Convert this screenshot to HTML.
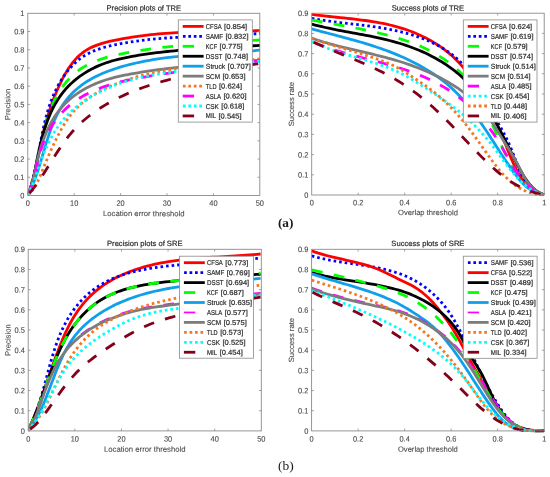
<!DOCTYPE html>
<html><head><meta charset="utf-8"><title>Precision and success plots</title>
<style>html,body{margin:0;padding:0;background:#fff}svg{display:block;filter:blur(0.35px)}text{font-family:"Liberation Sans", sans-serif;stroke-width:0.2px;fill:#2b2b2b;stroke:#2b2b2b}.tk text,text.al{fill:#4a4a4a;stroke:#4a4a4a;stroke-width:0.1px}</style></head>
<body>
<svg width="550" height="477" viewBox="0 0 550 477">
<rect width="550" height="477" fill="#fff"/>
<g id="p1">
<clipPath id="cp1"><rect x="27.8" y="11.9" width="232.4" height="185"/></clipPath>
<g clip-path="url(#cp1)" fill="none" stroke-width="2.8" stroke-linejoin="round">
<path d="M27.8 195.2L29.15 191.66L30.4 188.09L31.54 184.5L32.6 180.89L33.58 177.26L34.5 173.61L35.36 169.96L36.18 166.29L36.96 162.61L37.72 158.92L38.46 155.23L39.2 151.54L39.95 147.84L40.71 144.15L41.5 140.46L42.32 136.78L43.18 133.11L44.09 129.45L45.03 125.79L46.01 122.15L47.04 118.51L48.12 114.89L49.26 111.28L50.44 107.69L51.68 104.11L52.98 100.55L54.34 97.01L55.76 93.49L57.25 89.98L58.8 86.5L60.42 83.04L62.12 79.6L63.9 76.21L65.77 72.87L67.74 69.62L69.82 66.47L72.02 63.45L74.35 60.57L76.82 57.85L79.44 55.32L82.22 52.99L85.17 50.89L88.28 49.02L91.54 47.36L94.93 45.88L98.43 44.58L102.02 43.42L105.68 42.39L109.4 41.46L113.15 40.62L116.92 39.84L120.69 39.11L124.46 38.42L128.22 37.78L131.99 37.17L135.75 36.61L139.51 36.08L143.27 35.59L147.03 35.13L150.79 34.7L154.54 34.31L158.3 33.95L162.06 33.62L165.81 33.31L169.57 33.03L173.33 32.78L177.08 32.55L180.84 32.35L184.59 32.16L188.35 31.99L192.11 31.85L195.87 31.71L199.63 31.6L203.39 31.5L207.15 31.41L210.91 31.33L214.67 31.26L218.44 31.2L222.21 31.15L225.98 31.1L229.75 31.06L233.52 31.02L237.3 30.98L241.07 30.94L244.85 30.9L248.64 30.86L252.42 30.81L256.21 30.76L260 30.7" stroke="#ff0000"/>
<path d="M27.8 195.2L29.04 191.73L30.19 188.22L31.27 184.68L32.27 181.11L33.22 177.52L34.11 173.9L34.95 170.26L35.76 166.61L36.53 162.94L37.27 159.26L37.99 155.56L38.7 151.87L39.4 148.17L40.1 144.46L40.81 140.76L41.53 137.07L42.28 133.38L43.05 129.71L43.86 126.04L44.71 122.39L45.61 118.76L46.57 115.16L47.58 111.57L48.67 108.02L49.84 104.49L51.08 101L52.42 97.54L53.86 94.13L55.39 90.75L57.05 87.42L58.81 84.13L60.71 80.89L62.73 77.71L64.88 74.6L67.17 71.58L69.58 68.66L72.12 65.87L74.78 63.22L77.56 60.73L80.47 58.41L83.5 56.3L86.64 54.39L89.9 52.68L93.25 51.16L96.68 49.81L100.19 48.6L103.75 47.51L107.37 46.54L111.02 45.67L114.69 44.87L118.38 44.12L122.07 43.43L125.76 42.78L129.46 42.17L133.17 41.6L136.87 41.07L140.58 40.57L144.3 40.11L148.01 39.69L151.73 39.3L155.45 38.93L159.18 38.6L162.91 38.29L166.64 38L170.37 37.74L174.1 37.5L177.83 37.28L181.57 37.07L185.31 36.88L189.04 36.7L192.78 36.54L196.52 36.38L200.26 36.24L204 36.1L207.74 35.96L211.48 35.83L215.22 35.69L218.96 35.56L222.7 35.42L226.44 35.28L230.17 35.13L233.91 34.98L237.64 34.81L241.37 34.63L245.1 34.44L248.83 34.23L252.56 34.01L256.28 33.76L260 33.5" stroke="#0000ff" stroke-dasharray="2.6 3.0" stroke-dashoffset="-1.5"/>
<path d="M27.8 195.2L29.1 191.79L30.3 188.38L31.42 184.96L32.46 181.54L33.44 178.1L34.36 174.64L35.23 171.17L36.07 167.67L36.87 164.16L37.65 160.62L38.41 157.05L39.17 153.46L39.92 149.86L40.68 146.24L41.46 142.62L42.26 139L43.08 135.38L43.94 131.77L44.85 128.18L45.8 124.61L46.81 121.06L47.88 117.55L49.02 114.08L50.24 110.64L51.54 107.26L52.93 103.93L54.43 100.65L56.02 97.44L57.74 94.3L59.57 91.23L61.52 88.25L63.61 85.35L65.83 82.54L68.18 79.84L70.66 77.25L73.26 74.78L75.98 72.45L78.82 70.26L81.77 68.22L84.84 66.34L87.99 64.61L91.24 63.02L94.56 61.56L97.95 60.24L101.4 59.04L104.89 57.95L108.41 56.95L111.97 56.04L115.54 55.19L119.13 54.4L122.72 53.65L126.31 52.93L129.91 52.25L133.5 51.6L137.1 50.99L140.69 50.4L144.29 49.84L147.89 49.31L151.49 48.81L155.09 48.33L158.69 47.88L162.3 47.45L165.9 47.04L169.51 46.65L173.11 46.28L176.72 45.93L180.33 45.6L183.94 45.28L187.55 44.97L191.16 44.68L194.78 44.4L198.39 44.13L202.01 43.87L205.62 43.61L209.24 43.37L212.86 43.12L216.48 42.89L220.1 42.65L223.72 42.42L227.35 42.19L230.97 41.95L234.6 41.72L238.22 41.48L241.85 41.23L245.48 40.98L249.11 40.73L252.74 40.46L256.37 40.19L260 39.9" stroke="#00ff00" stroke-dasharray="10.8 11.4" stroke-dashoffset="-3.3"/>
<path d="M27.8 195.2L29.16 191.87L30.37 188.52L31.45 185.15L32.41 181.75L33.28 178.34L34.07 174.91L34.8 171.45L35.5 167.98L36.18 164.5L36.86 161L37.55 157.48L38.27 153.95L39.03 150.42L39.82 146.88L40.65 143.36L41.53 139.84L42.46 136.33L43.44 132.84L44.49 129.38L45.6 125.95L46.79 122.55L48.05 119.19L49.39 115.88L50.81 112.62L52.33 109.41L53.94 106.26L55.65 103.18L57.47 100.16L59.4 97.22L61.44 94.36L63.6 91.59L65.89 88.9L68.3 86.31L70.83 83.82L73.47 81.43L76.21 79.13L79.05 76.94L81.97 74.86L84.98 72.89L88.06 71.02L91.21 69.27L94.41 67.64L97.67 66.13L100.97 64.74L104.31 63.46L107.69 62.29L111.1 61.22L114.53 60.25L117.99 59.35L121.48 58.53L124.97 57.77L128.49 57.07L132.01 56.41L135.53 55.8L139.06 55.21L142.6 54.66L146.13 54.13L149.67 53.63L153.2 53.16L156.74 52.71L160.29 52.29L163.83 51.88L167.38 51.5L170.92 51.14L174.47 50.8L178.02 50.48L181.58 50.17L185.13 49.88L188.69 49.6L192.24 49.34L195.8 49.09L199.36 48.85L202.92 48.62L206.48 48.4L210.05 48.18L213.61 47.97L217.18 47.77L220.74 47.57L224.31 47.37L227.87 47.18L231.44 46.98L235.01 46.79L238.58 46.59L242.15 46.39L245.72 46.19L249.29 45.98L252.86 45.76L256.43 45.53L260 45.3" stroke="#000000"/>
<path d="M27.8 195.2L29.38 192.14L30.86 189.05L32.25 185.92L33.56 182.75L34.8 179.55L35.97 176.32L37.1 173.05L38.18 169.76L39.23 166.44L40.26 163.09L41.27 159.72L42.27 156.34L43.26 152.95L44.26 149.56L45.27 146.17L46.3 142.79L47.36 139.42L48.45 136.07L49.58 132.74L50.76 129.45L51.99 126.19L53.29 122.97L54.66 119.79L56.1 116.67L57.63 113.61L59.25 110.61L60.97 107.68L62.79 104.82L64.73 102.04L66.79 99.34L68.98 96.74L71.29 94.23L73.71 91.81L76.25 89.49L78.89 87.28L81.62 85.16L84.44 83.15L87.34 81.24L90.32 79.45L93.36 77.76L96.46 76.18L99.61 74.69L102.81 73.3L106.05 71.99L109.32 70.75L112.61 69.59L115.93 68.49L119.25 67.45L122.59 66.46L125.93 65.52L129.29 64.64L132.65 63.8L136.02 63.01L139.4 62.27L142.78 61.57L146.18 60.91L149.58 60.29L152.98 59.71L156.4 59.16L159.82 58.65L163.24 58.17L166.67 57.72L170.11 57.29L173.55 56.9L176.99 56.52L180.44 56.18L183.89 55.85L187.34 55.54L190.8 55.25L194.26 54.97L197.72 54.7L201.19 54.45L204.65 54.21L208.12 53.97L211.58 53.74L215.05 53.52L218.52 53.29L221.98 53.07L225.45 52.85L228.92 52.62L232.38 52.39L235.84 52.14L239.3 51.89L242.76 51.63L246.21 51.36L249.67 51.07L253.11 50.77L256.56 50.44L260 50.1" stroke="#10a0ea"/>
<path d="M27.8 195.2L29.13 191.98L30.31 188.75L31.36 185.51L32.3 182.26L33.15 178.99L33.93 175.72L34.67 172.43L35.39 169.14L36.1 165.84L36.84 162.53L37.61 159.21L38.43 155.89L39.32 152.57L40.27 149.26L41.28 145.96L42.36 142.69L43.51 139.43L44.74 136.21L46.05 133.03L47.44 129.89L48.91 126.8L50.47 123.76L52.13 120.79L53.88 117.88L55.73 115.05L57.69 112.29L59.75 109.62L61.91 107.04L64.19 104.56L66.59 102.18L69.09 99.9L71.69 97.72L74.38 95.64L77.15 93.66L80 91.78L82.93 90L85.91 88.32L88.96 86.74L92.05 85.25L95.18 83.86L98.35 82.57L101.55 81.38L104.77 80.28L108.02 79.26L111.28 78.32L114.57 77.45L117.87 76.65L121.18 75.9L124.51 75.2L127.85 74.54L131.2 73.92L134.55 73.33L137.91 72.76L141.27 72.22L144.64 71.69L148.01 71.18L151.38 70.69L154.76 70.22L158.13 69.76L161.51 69.32L164.9 68.9L168.28 68.49L171.67 68.09L175.06 67.7L178.45 67.33L181.85 66.97L185.24 66.62L188.64 66.28L192.04 65.95L195.44 65.62L198.84 65.31L202.24 65L205.64 64.69L209.04 64.39L212.44 64.1L215.85 63.81L219.25 63.52L222.65 63.23L226.05 62.95L229.45 62.66L232.85 62.38L236.25 62.09L239.65 61.81L243.04 61.52L246.44 61.22L249.83 60.92L253.22 60.62L256.61 60.31L260 60" stroke="#7c7c7c"/>
<path d="M27.8 195.2L30.25 192.96L32.39 190.5L34.25 187.85L35.9 185.05L37.38 182.14L38.74 179.15L40.03 176.11L41.3 173.06L42.56 170.01L43.82 166.96L45.09 163.92L46.37 160.89L47.66 157.85L48.96 154.82L50.29 151.8L51.64 148.78L53.01 145.77L54.42 142.76L55.87 139.76L57.35 136.77L58.88 133.8L60.46 130.86L62.09 127.95L63.79 125.08L65.55 122.26L67.39 119.5L69.3 116.81L71.3 114.2L73.38 111.68L75.57 109.24L77.85 106.92L80.23 104.69L82.69 102.56L85.25 100.52L87.88 98.58L90.58 96.72L93.35 94.95L96.18 93.26L99.07 91.64L102 90.1L104.98 88.63L107.99 87.22L111.04 85.88L114.11 84.6L117.19 83.37L120.3 82.2L123.41 81.08L126.54 80.01L129.68 78.98L132.83 78.01L135.99 77.07L139.17 76.18L142.35 75.34L145.54 74.53L148.75 73.76L151.96 73.02L155.18 72.33L158.41 71.66L161.64 71.03L164.88 70.43L168.13 69.85L171.39 69.31L174.65 68.78L177.92 68.29L181.19 67.81L184.46 67.35L187.74 66.92L191.03 66.5L194.31 66.09L197.6 65.7L200.89 65.33L204.19 64.96L207.48 64.6L210.78 64.25L214.07 63.91L217.37 63.57L220.66 63.23L223.96 62.89L227.25 62.56L230.54 62.22L233.83 61.88L237.11 61.53L240.4 61.17L243.68 60.81L246.95 60.43L250.22 60.05L253.49 59.65L256.75 59.23L260 58.8" stroke="#f4771d" stroke-dasharray="2.6 3.0"/>
<path d="M27.8 195.2L29.26 192.13L30.54 189.03L31.69 185.88L32.7 182.7L33.62 179.49L34.46 176.27L35.23 173.02L35.97 169.76L36.7 166.49L37.43 163.21L38.18 159.94L38.97 156.67L39.83 153.42L40.76 150.18L41.8 146.97L42.94 143.78L44.2 140.63L45.56 137.52L47.03 134.45L48.61 131.44L50.28 128.48L52.06 125.59L53.93 122.76L55.9 120.01L57.96 117.34L60.11 114.76L62.34 112.27L64.66 109.88L67.06 107.6L69.53 105.42L72.09 103.35L74.71 101.39L77.41 99.52L80.17 97.75L82.99 96.08L85.87 94.49L88.81 92.99L91.8 91.57L94.84 90.24L97.92 88.97L101.05 87.78L104.21 86.65L107.41 85.59L110.64 84.59L113.9 83.64L117.19 82.75L120.5 81.91L123.82 81.11L127.16 80.36L130.52 79.64L133.88 78.96L137.25 78.31L140.61 77.69L143.98 77.09L147.34 76.52L150.7 75.96L154.04 75.41L157.37 74.88L160.7 74.35L164.01 73.84L167.32 73.34L170.62 72.85L173.91 72.37L177.19 71.9L180.48 71.43L183.75 70.98L187.03 70.52L190.3 70.08L193.57 69.63L196.84 69.19L200.11 68.76L203.39 68.32L206.66 67.89L209.94 67.46L213.22 67.03L216.5 66.6L219.79 66.17L223.09 65.73L226.39 65.29L229.7 64.85L233.02 64.41L236.35 63.96L239.69 63.5L243.05 63.04L246.41 62.57L249.79 62.09L253.18 61.6L256.58 61.11L260 60.6" stroke="#ff00ff" stroke-dasharray="10.8 11.4" stroke-dashoffset="-1.7"/>
<path d="M27.8 195.2L29.28 192.27L30.64 189.3L31.91 186.28L33.09 183.23L34.22 180.15L35.31 177.04L36.38 173.92L37.44 170.79L38.52 167.65L39.63 164.51L40.76 161.38L41.94 158.26L43.16 155.15L44.43 152.06L45.74 149L47.11 145.96L48.54 142.96L50.02 140L51.57 137.08L53.19 134.21L54.89 131.4L56.65 128.64L58.5 125.94L60.43 123.31L62.45 120.75L64.56 118.27L66.75 115.86L69.03 113.53L71.38 111.27L73.81 109.08L76.31 106.96L78.87 104.92L81.5 102.94L84.2 101.03L86.95 99.2L89.75 97.43L92.61 95.72L95.51 94.09L98.46 92.52L101.44 91.02L104.47 89.58L107.52 88.2L110.61 86.89L113.73 85.64L116.86 84.45L120.02 83.32L123.19 82.26L126.38 81.25L129.58 80.3L132.78 79.42L135.98 78.58L139.19 77.81L142.39 77.09L145.6 76.41L148.8 75.78L152.01 75.18L155.23 74.62L158.44 74.08L161.66 73.57L164.89 73.08L168.12 72.61L171.36 72.14L174.6 71.68L177.85 71.22L181.11 70.76L184.38 70.29L187.65 69.83L190.93 69.37L194.21 68.91L197.5 68.45L200.79 67.99L204.08 67.54L207.38 67.1L210.68 66.66L213.98 66.23L217.28 65.81L220.58 65.39L223.89 64.99L227.19 64.6L230.49 64.22L233.78 63.85L237.08 63.5L240.37 63.16L243.65 62.84L246.93 62.53L250.21 62.25L253.48 61.98L256.74 61.73L260 61.5" stroke="#00ffff" stroke-dasharray="2.6 3.0"/>
<path d="M27.8 195.2L29.84 192.86L31.82 190.47L33.74 188.01L35.61 185.51L37.43 182.96L39.22 180.37L40.98 177.75L42.71 175.1L44.43 172.44L46.13 169.75L47.82 167.05L49.51 164.35L51.21 161.64L52.9 158.93L54.61 156.23L56.34 153.54L58.08 150.87L59.85 148.22L61.64 145.6L63.48 143.01L65.34 140.45L67.26 137.94L69.22 135.46L71.23 133.04L73.3 130.68L75.43 128.37L77.62 126.12L79.87 123.94L82.17 121.81L84.53 119.73L86.94 117.72L89.4 115.76L91.91 113.85L94.46 112L97.05 110.19L99.68 108.45L102.35 106.75L105.05 105.1L107.79 103.5L110.56 101.95L113.35 100.44L116.17 98.98L119.01 97.57L121.88 96.2L124.76 94.88L127.66 93.59L130.57 92.35L133.5 91.15L136.44 89.99L139.4 88.86L142.37 87.78L145.35 86.73L148.35 85.71L151.36 84.73L154.38 83.78L157.41 82.87L160.45 81.98L163.49 81.13L166.55 80.3L169.62 79.5L172.7 78.73L175.78 77.98L178.87 77.26L181.97 76.56L185.07 75.88L188.18 75.22L191.29 74.59L194.41 73.97L197.53 73.37L200.66 72.79L203.79 72.22L206.92 71.67L210.05 71.13L213.18 70.6L216.32 70.09L219.45 69.58L222.59 69.09L225.72 68.6L228.86 68.13L231.99 67.65L235.12 67.19L238.24 66.72L241.36 66.26L244.48 65.8L247.6 65.34L250.71 64.89L253.81 64.43L256.91 63.97L260 63.5" stroke="#83001a" stroke-dasharray="10.8 11.4" stroke-dashoffset="-2.5"/>
</g>
<rect x="27.8" y="13.3" width="232" height="182.2" fill="none" stroke="#8a8a8a" stroke-width="0.9"/>
<path d="M74.2 195.5v-2.3M74.2 13.3v2.3M120.6 195.5v-2.3M120.6 13.3v2.3M167 195.5v-2.3M167 13.3v2.3M213.4 195.5v-2.3M213.4 13.3v2.3M27.8 177.28h2.3M259.8 177.28h-2.3M27.8 159.06h2.3M259.8 159.06h-2.3M27.8 140.84h2.3M259.8 140.84h-2.3M27.8 122.62h2.3M259.8 122.62h-2.3M27.8 104.4h2.3M259.8 104.4h-2.3M27.8 86.18h2.3M259.8 86.18h-2.3M27.8 67.96h2.3M259.8 67.96h-2.3M27.8 49.74h2.3M259.8 49.74h-2.3M27.8 31.52h2.3M259.8 31.52h-2.3" stroke="#8a8a8a" stroke-width="0.8" fill="none"/>
<g class="tk" font-size="7.8">
<text transform="translate(25.73 205.8) rotate(0.03)" textLength="4.14" lengthAdjust="spacingAndGlyphs">0</text><text transform="translate(70.06 205.8) rotate(0.03)" textLength="8.28" lengthAdjust="spacingAndGlyphs">10</text><text transform="translate(116.46 205.8) rotate(0.03)" textLength="8.28" lengthAdjust="spacingAndGlyphs">20</text><text transform="translate(162.86 205.8) rotate(0.03)" textLength="8.28" lengthAdjust="spacingAndGlyphs">30</text><text transform="translate(209.26 205.8) rotate(0.03)" textLength="8.28" lengthAdjust="spacingAndGlyphs">40</text><text transform="translate(255.66 205.8) rotate(0.03)" textLength="8.28" lengthAdjust="spacingAndGlyphs">50</text>
<text transform="translate(20.36 198.3) rotate(0.03)" textLength="4.14" lengthAdjust="spacingAndGlyphs">0</text><text transform="translate(14.15 180.08) rotate(0.03)" textLength="10.35" lengthAdjust="spacingAndGlyphs">0.1</text><text transform="translate(14.15 161.86) rotate(0.03)" textLength="10.35" lengthAdjust="spacingAndGlyphs">0.2</text><text transform="translate(14.15 143.64) rotate(0.03)" textLength="10.35" lengthAdjust="spacingAndGlyphs">0.3</text><text transform="translate(14.15 125.42) rotate(0.03)" textLength="10.35" lengthAdjust="spacingAndGlyphs">0.4</text><text transform="translate(14.15 107.2) rotate(0.03)" textLength="10.35" lengthAdjust="spacingAndGlyphs">0.5</text><text transform="translate(14.15 88.98) rotate(0.03)" textLength="10.35" lengthAdjust="spacingAndGlyphs">0.6</text><text transform="translate(14.15 70.76) rotate(0.03)" textLength="10.35" lengthAdjust="spacingAndGlyphs">0.7</text><text transform="translate(14.15 52.54) rotate(0.03)" textLength="10.35" lengthAdjust="spacingAndGlyphs">0.8</text><text transform="translate(14.15 34.32) rotate(0.03)" textLength="10.35" lengthAdjust="spacingAndGlyphs">0.9</text><text transform="translate(20.36 16.1) rotate(0.03)" textLength="4.14" lengthAdjust="spacingAndGlyphs">1</text>
</g>
<text transform="translate(106.6 10.6) rotate(0.03)" font-size="7.6" textLength="74.4" lengthAdjust="spacingAndGlyphs">Precision plots of TRE</text>
<text transform="translate(103 216.1) rotate(0.03)" class="al" font-size="7.6" textLength="81.6" lengthAdjust="spacingAndGlyphs">Location error threshold</text>
<text transform="translate(10.2 120.2) rotate(-90.03)" class="al" font-size="7.6" textLength="31.6" lengthAdjust="spacingAndGlyphs">Precision</text>
<rect x="178.3" y="19.9" width="74" height="102.2" fill="#fff" stroke="#8a8a8a" stroke-width="0.8"/>
<g font-size="7.05">
<path d="M182.7 26.4H203.6" stroke="#ff0000" stroke-width="2.8" fill="none"/><text transform="translate(205.8 28.9) rotate(0.03)" textLength="15.8" lengthAdjust="spacingAndGlyphs">CFSA</text><text transform="translate(224.1 28.9) rotate(0.03)" textLength="23.1" lengthAdjust="spacingAndGlyphs">[0.854]</text>
<path d="M182.9 36.35H203.6" stroke="#0000ff" stroke-width="2.8" stroke-dasharray="2.7 2.75" fill="none"/><text transform="translate(205.8 38.85) rotate(0.03)" textLength="17.2" lengthAdjust="spacingAndGlyphs">SAMF</text><text transform="translate(225.5 38.85) rotate(0.03)" textLength="23.1" lengthAdjust="spacingAndGlyphs">[0.832]</text>
<path d="M182.7 46.3h11.4" stroke="#00ff00" stroke-width="2.8" fill="none"/><text transform="translate(205.8 48.8) rotate(0.03)" textLength="11.3" lengthAdjust="spacingAndGlyphs">KCF</text><text transform="translate(219.6 48.8) rotate(0.03)" textLength="23.1" lengthAdjust="spacingAndGlyphs">[0.775]</text>
<path d="M182.7 56.25H203.6" stroke="#000000" stroke-width="2.8" fill="none"/><text transform="translate(205.8 58.75) rotate(0.03)" textLength="16.6" lengthAdjust="spacingAndGlyphs">DSST</text><text transform="translate(224.9 58.75) rotate(0.03)" textLength="23.1" lengthAdjust="spacingAndGlyphs">[0.748]</text>
<path d="M182.7 66.2H203.6" stroke="#10a0ea" stroke-width="2.8" fill="none"/><text transform="translate(205.8 68.7) rotate(0.03)" textLength="19.5" lengthAdjust="spacingAndGlyphs">Struck</text><text transform="translate(227.8 68.7) rotate(0.03)" textLength="23.1" lengthAdjust="spacingAndGlyphs">[0.707]</text>
<path d="M182.7 76.15H203.6" stroke="#7c7c7c" stroke-width="2.8" fill="none"/><text transform="translate(205.8 78.65) rotate(0.03)" textLength="14.2" lengthAdjust="spacingAndGlyphs">SCM</text><text transform="translate(222.5 78.65) rotate(0.03)" textLength="23.1" lengthAdjust="spacingAndGlyphs">[0.653]</text>
<path d="M182.9 86.1H203.6" stroke="#f4771d" stroke-width="2.8" stroke-dasharray="2.7 2.75" fill="none"/><text transform="translate(205.8 88.6) rotate(0.03)" textLength="10.7" lengthAdjust="spacingAndGlyphs">TLD</text><text transform="translate(219 88.6) rotate(0.03)" textLength="23.1" lengthAdjust="spacingAndGlyphs">[0.624]</text>
<path d="M182.7 96.05h11.4" stroke="#ff00ff" stroke-width="2.8" fill="none"/><text transform="translate(205.8 98.55) rotate(0.03)" textLength="15.2" lengthAdjust="spacingAndGlyphs">ASLA</text><text transform="translate(223.5 98.55) rotate(0.03)" textLength="23.1" lengthAdjust="spacingAndGlyphs">[0.620]</text>
<path d="M182.9 106H203.6" stroke="#00ffff" stroke-width="2.8" stroke-dasharray="2.7 2.75" fill="none"/><text transform="translate(205.8 108.5) rotate(0.03)" textLength="13" lengthAdjust="spacingAndGlyphs">CSK</text><text transform="translate(221.3 108.5) rotate(0.03)" textLength="23.1" lengthAdjust="spacingAndGlyphs">[0.618]</text>
<path d="M182.7 115.95h11.4" stroke="#83001a" stroke-width="2.8" fill="none"/><text transform="translate(205.8 118.45) rotate(0.03)" textLength="10.2" lengthAdjust="spacingAndGlyphs">MIL</text><text transform="translate(218.5 118.45) rotate(0.03)" textLength="23.1" lengthAdjust="spacingAndGlyphs">[0.545]</text>
</g>
</g>
<g id="p2">
<clipPath id="cp2"><rect x="311.7" y="11.8" width="232.9" height="184.6"/></clipPath>
<g clip-path="url(#cp2)" fill="none" stroke-width="2.8" stroke-linejoin="round">
<path d="M311.8 14.4L315.32 14.87L318.85 15.31L322.4 15.72L325.95 16.12L329.52 16.51L333.09 16.88L336.66 17.25L340.24 17.62L343.83 17.98L347.41 18.36L351 18.75L354.59 19.15L358.17 19.58L361.75 20.02L365.32 20.5L368.89 21.01L372.45 21.56L376 22.15L379.53 22.78L383.06 23.47L386.57 24.21L390.07 25.01L393.55 25.87L397.02 26.8L400.46 27.8L403.88 28.88L407.28 30.03L410.66 31.26L414 32.57L417.31 33.96L420.58 35.43L423.82 36.98L427.01 38.61L430.15 40.31L433.25 42.11L436.29 43.98L439.28 45.93L442.21 47.97L445.07 50.09L447.87 52.29L450.6 54.58L453.26 56.96L455.84 59.42L458.35 61.96L460.77 64.59L463.11 67.31L465.37 70.11L467.55 72.98L469.66 75.91L471.71 78.9L473.72 81.92L475.67 84.98L477.59 88.06L479.48 91.15L481.34 94.24L483.17 97.35L484.97 100.47L486.73 103.6L488.46 106.75L490.15 109.91L491.8 113.09L493.41 116.29L494.97 119.51L496.49 122.76L497.96 126.03L499.38 129.32L500.77 132.63L502.13 135.96L503.48 139.31L504.81 142.66L506.15 146.02L507.49 149.38L508.85 152.73L510.24 156.09L511.66 159.43L513.12 162.76L514.65 166.06L516.25 169.3L517.95 172.46L519.76 175.53L521.71 178.47L523.8 181.26L526.07 183.89L528.52 186.32L531.17 188.54L534.05 190.52L537.17 192.24L540.55 193.67L544.2 194.8" stroke="#ff0000"/>
<path d="M311.8 18.4L315.32 19.03L318.85 19.62L322.38 20.17L325.91 20.69L329.45 21.19L332.99 21.66L336.53 22.11L340.07 22.54L343.61 22.96L347.15 23.38L350.69 23.79L354.23 24.21L357.77 24.62L361.3 25.05L364.84 25.49L368.37 25.95L371.9 26.44L375.43 26.94L378.95 27.48L382.47 28.06L385.98 28.67L389.49 29.32L392.99 30.02L396.49 30.77L399.98 31.58L403.47 32.45L406.94 33.38L410.4 34.37L413.84 35.43L417.25 36.57L420.64 37.77L423.99 39.05L427.3 40.41L430.57 41.85L433.79 43.38L436.95 44.98L440.06 46.68L443.1 48.47L446.08 50.35L448.99 52.33L451.81 54.41L454.56 56.59L457.22 58.87L459.79 61.26L462.26 63.76L464.63 66.36L466.91 69.07L469.11 71.87L471.22 74.75L473.26 77.71L475.24 80.74L477.15 83.82L479.01 86.95L480.83 90.12L482.6 93.33L484.33 96.56L486.04 99.8L487.72 103.05L489.38 106.3L491.04 109.53L492.69 112.75L494.35 115.94L496.01 119.09L497.69 122.2L499.39 125.26L501.1 128.27L502.79 131.28L504.42 134.32L506 137.4L507.52 140.53L508.99 143.71L510.41 146.97L511.77 150.3L513.1 153.7L514.4 157.14L515.71 160.59L517.06 164.03L518.45 167.43L519.93 170.77L521.51 174.02L523.21 177.15L525.06 180.14L527.08 182.96L529.3 185.58L531.75 187.97L534.43 190.12L537.39 191.99L540.64 193.56L544.2 194.8" stroke="#0000ff" stroke-dasharray="2.6 3.0"/>
<path d="M311.8 20.1L315.23 20.72L318.67 21.33L322.12 21.94L325.57 22.55L329.02 23.16L332.47 23.77L335.92 24.39L339.38 25.01L342.83 25.63L346.29 26.27L349.74 26.92L353.19 27.58L356.64 28.25L360.08 28.94L363.52 29.65L366.96 30.37L370.38 31.12L373.81 31.89L377.22 32.68L380.63 33.5L384.03 34.35L387.42 35.22L390.8 36.13L394.17 37.07L397.53 38.05L400.87 39.06L404.21 40.11L407.52 41.21L410.82 42.36L414.09 43.58L417.33 44.86L420.54 46.22L423.72 47.66L426.86 49.18L429.97 50.78L433.05 52.46L436.09 54.21L439.09 56.03L442.06 57.92L444.99 59.87L447.88 61.9L450.7 64L453.46 66.18L456.14 68.43L458.74 70.77L461.24 73.19L463.64 75.69L465.94 78.28L468.15 80.94L470.26 83.67L472.29 86.48L474.25 89.34L476.12 92.27L477.93 95.25L479.68 98.28L481.37 101.35L483 104.46L484.59 107.61L486.14 110.8L487.65 114L489.12 117.23L490.58 120.48L492.01 123.74L493.42 127.01L494.83 130.28L496.23 133.55L497.63 136.81L499.04 140.07L500.47 143.31L501.91 146.53L503.38 149.73L504.89 152.9L506.44 156.04L508.04 159.15L509.7 162.22L511.42 165.24L513.22 168.21L515.09 171.14L517.05 174L519.11 176.81L521.26 179.55L523.53 182.22L525.93 184.76L528.48 187.12L531.2 189.28L534.11 191.17L537.24 192.75L540.59 193.98L544.2 194.8" stroke="#00ff00" stroke-dasharray="10.8 11.4"/>
<path d="M311.8 24.2L315.16 25.08L318.53 25.92L321.9 26.72L325.27 27.49L328.65 28.22L332.03 28.93L335.41 29.61L338.8 30.27L342.19 30.92L345.58 31.55L348.96 32.18L352.35 32.8L355.74 33.43L359.12 34.05L362.5 34.69L365.88 35.33L369.26 35.99L372.63 36.67L376 37.37L379.36 38.1L382.71 38.86L386.06 39.65L389.4 40.49L392.74 41.36L396.06 42.28L399.38 43.26L402.69 44.28L405.98 45.36L409.26 46.5L412.52 47.7L415.76 48.95L418.98 50.27L422.18 51.64L425.34 53.08L428.47 54.57L431.57 56.13L434.63 57.75L437.64 59.44L440.62 61.18L443.55 63L446.43 64.87L449.25 66.82L452.02 68.83L454.73 70.91L457.39 73.06L459.97 75.27L462.49 77.56L464.94 79.91L467.33 82.33L469.65 84.82L471.91 87.36L474.12 89.96L476.26 92.62L478.36 95.33L480.4 98.09L482.4 100.89L484.35 103.73L486.25 106.62L488.12 109.54L489.95 112.5L491.74 115.48L493.5 118.5L495.22 121.53L496.92 124.59L498.6 127.67L500.25 130.77L501.88 133.87L503.49 136.99L505.09 140.12L506.67 143.24L508.25 146.37L509.81 149.5L511.37 152.62L512.93 155.74L514.49 158.84L516.05 161.93L517.61 165L519.2 168.04L520.83 171.05L522.52 174L524.29 176.88L526.17 179.69L528.16 182.41L530.3 185.02L532.6 187.51L535.1 189.8L537.84 191.83L540.86 193.52L544.2 194.8" stroke="#000000"/>
<path d="M311.8 28.9L315.04 29.78L318.29 30.66L321.53 31.53L324.77 32.39L328.01 33.24L331.25 34.1L334.49 34.95L337.72 35.81L340.95 36.67L344.18 37.53L347.4 38.41L350.62 39.29L353.84 40.18L357.04 41.09L360.24 42.02L363.44 42.96L366.63 43.93L369.81 44.91L372.98 45.92L376.15 46.96L379.3 48.02L382.45 49.12L385.58 50.25L388.71 51.41L391.83 52.6L394.93 53.84L398.02 55.11L401.1 56.43L404.17 57.79L407.22 59.2L410.25 60.65L413.27 62.15L416.26 63.69L419.22 65.28L422.16 66.92L425.07 68.61L427.95 70.35L430.79 72.14L433.59 73.98L436.36 75.88L439.08 77.82L441.76 79.82L444.39 81.87L446.96 83.98L449.49 86.14L451.97 88.36L454.38 90.63L456.74 92.96L459.05 95.34L461.31 97.77L463.53 100.24L465.7 102.76L467.82 105.32L469.91 107.91L471.97 110.55L473.99 113.21L475.97 115.9L477.94 118.62L479.87 121.37L481.78 124.13L483.68 126.92L485.55 129.72L487.41 132.53L489.26 135.36L491.1 138.19L492.94 141.03L494.77 143.87L496.59 146.72L498.42 149.56L500.26 152.39L502.1 155.21L503.95 158.03L505.81 160.83L507.69 163.62L509.58 166.38L511.49 169.13L513.43 171.85L515.4 174.54L517.41 177.17L519.48 179.73L521.64 182.18L523.9 184.49L526.28 186.65L528.8 188.63L531.48 190.39L534.35 191.91L537.41 193.18L540.68 194.15L544.2 194.8" stroke="#10a0ea"/>
<path d="M311.8 38.2L314.95 39.27L318.1 40.31L321.27 41.3L324.44 42.25L327.63 43.18L330.81 44.07L334.01 44.93L337.21 45.77L340.42 46.59L343.63 47.39L346.84 48.17L350.06 48.94L353.28 49.7L356.5 50.45L359.72 51.2L362.94 51.96L366.16 52.71L369.38 53.47L372.59 54.23L375.81 55.01L379.02 55.8L382.23 56.61L385.43 57.44L388.63 58.3L391.82 59.18L395.01 60.09L398.18 61.03L401.35 62.01L404.51 63.03L407.66 64.08L410.8 65.18L413.93 66.31L417.04 67.49L420.13 68.7L423.21 69.95L426.26 71.25L429.3 72.59L432.31 73.97L435.3 75.39L438.27 76.85L441.2 78.36L444.11 79.91L446.99 81.5L449.84 83.14L452.65 84.84L455.42 86.59L458.16 88.41L460.85 90.3L463.5 92.26L466.1 94.3L468.65 96.41L471.15 98.6L473.6 100.85L475.99 103.17L478.33 105.55L480.6 107.99L482.82 110.48L484.97 113.03L487.06 115.63L489.09 118.27L491.04 120.96L492.92 123.69L494.74 126.46L496.5 129.25L498.23 132.05L499.94 134.86L501.65 137.67L503.38 140.45L505.13 143.23L506.87 146L508.62 148.78L510.35 151.58L512.06 154.4L513.75 157.26L515.39 160.16L516.99 163.11L518.55 166.1L520.09 169.11L521.66 172.11L523.26 175.06L524.94 177.94L526.72 180.71L528.62 183.36L530.67 185.84L532.91 188.13L535.35 190.2L538.03 192.02L540.97 193.57L544.2 194.8" stroke="#7c7c7c"/>
<path d="M311.8 41.5L314.8 42.79L317.82 44.02L320.86 45.2L323.91 46.34L326.98 47.43L330.06 48.49L333.15 49.51L336.26 50.49L339.37 51.44L342.49 52.37L345.62 53.27L348.76 54.15L351.9 55.01L355.05 55.85L358.2 56.68L361.36 57.51L364.51 58.32L367.67 59.14L370.83 59.95L373.99 60.77L377.14 61.59L380.3 62.42L383.44 63.26L386.59 64.12L389.72 65L392.85 65.9L395.97 66.82L399.08 67.77L402.18 68.75L405.28 69.76L408.35 70.81L411.42 71.9L414.47 73.04L417.5 74.21L420.52 75.44L423.52 76.72L426.5 78.05L429.46 79.43L432.4 80.86L435.31 82.35L438.19 83.88L441.05 85.47L443.87 87.11L446.66 88.81L449.42 90.55L452.14 92.36L454.82 94.21L457.45 96.12L460.05 98.08L462.6 100.1L465.11 102.17L467.57 104.3L469.98 106.48L472.35 108.71L474.66 110.98L476.93 113.31L479.15 115.68L481.32 118.1L483.44 120.57L485.51 123.07L487.53 125.61L489.5 128.2L491.41 130.82L493.28 133.48L495.09 136.17L496.86 138.9L498.57 141.66L500.25 144.45L501.9 147.25L503.54 150.08L505.16 152.93L506.78 155.78L508.41 158.65L510.06 161.51L511.74 164.37L513.46 167.2L515.23 169.99L517.06 172.72L518.95 175.38L520.94 177.95L523.01 180.42L525.19 182.78L527.48 185.01L529.89 187.09L532.44 189.01L535.14 190.76L537.99 192.32L541.01 193.67L544.2 194.8" stroke="#ff00ff" stroke-dasharray="10.8 11.4" stroke-dashoffset="-2.5"/>
<path d="M311.8 41.5L314.67 42.89L317.58 44.22L320.51 45.49L323.47 46.7L326.45 47.86L329.46 48.97L332.48 50.04L335.53 51.07L338.58 52.07L341.65 53.04L344.73 53.99L347.82 54.92L350.91 55.84L354.01 56.75L357.11 57.66L360.21 58.56L363.3 59.47L366.39 60.4L369.47 61.33L372.54 62.29L375.6 63.27L378.65 64.28L381.67 65.33L384.68 66.41L387.67 67.54L390.63 68.71L393.57 69.94L396.48 71.23L399.36 72.57L402.21 73.99L405.03 75.47L407.81 77.01L410.58 78.6L413.32 80.24L416.05 81.91L418.76 83.62L421.46 85.35L424.16 87.1L426.85 88.85L429.55 90.62L432.24 92.38L434.93 94.16L437.61 95.95L440.28 97.75L442.94 99.57L445.58 101.41L448.2 103.27L450.8 105.15L453.37 107.07L455.92 109.01L458.43 110.99L460.91 113L463.35 115.05L465.76 117.15L468.13 119.28L470.46 121.44L472.76 123.65L475.02 125.89L477.25 128.17L479.45 130.48L481.61 132.83L483.75 135.21L485.85 137.62L487.93 140.07L489.97 142.54L491.99 145.05L493.99 147.59L495.96 150.15L497.9 152.74L499.82 155.36L501.74 157.99L503.65 160.62L505.57 163.24L507.5 165.84L509.46 168.41L511.44 170.94L513.47 173.42L515.55 175.84L517.69 178.19L519.89 180.46L522.17 182.63L524.53 184.7L526.98 186.66L529.54 188.5L532.2 190.2L534.98 191.73L537.9 193.04L540.97 194.08L544.2 194.8" stroke="#00ffff" stroke-dasharray="2.6 3.0"/>
<path d="M311.8 38.2L314.84 39.35L317.9 40.45L320.98 41.53L324.07 42.56L327.16 43.57L330.27 44.56L333.39 45.52L336.51 46.47L339.64 47.41L342.77 48.33L345.9 49.25L349.04 50.17L352.17 51.09L355.3 52.02L358.43 52.96L361.55 53.91L364.67 54.88L367.77 55.87L370.87 56.88L373.96 57.93L377.03 59.01L380.09 60.12L383.14 61.28L386.16 62.49L389.15 63.75L392.11 65.08L395.03 66.48L397.91 67.96L400.74 69.52L403.52 71.17L406.25 72.89L408.96 74.66L411.66 76.44L414.37 78.22L417.07 80.01L419.77 81.8L422.45 83.62L425.12 85.46L427.77 87.34L430.39 89.27L432.98 91.26L435.53 93.3L438.05 95.39L440.53 97.53L442.97 99.72L445.38 101.95L447.74 104.23L450.07 106.54L452.35 108.89L454.59 111.27L456.78 113.69L458.93 116.13L461.04 118.6L463.1 121.09L465.12 123.6L467.11 126.14L469.08 128.7L471.01 131.27L472.93 133.87L474.83 136.48L476.72 139.1L478.61 141.74L480.49 144.4L482.37 147.06L484.26 149.74L486.15 152.42L488.07 155.11L490 157.8L491.95 160.48L493.94 163.14L495.96 165.77L498.02 168.36L500.12 170.89L502.28 173.35L504.49 175.74L506.76 178.03L509.1 180.23L511.51 182.32L513.99 184.29L516.56 186.12L519.21 187.81L521.96 189.35L524.8 190.71L527.75 191.91L530.8 192.91L533.97 193.71L537.26 194.3L540.66 194.67L544.2 194.8" stroke="#f4771d" stroke-dasharray="2.6 3.0"/>
<path d="M311.8 41.5L314.67 42.8L317.55 44.08L320.45 45.34L323.35 46.58L326.27 47.82L329.19 49.04L332.12 50.26L335.06 51.47L338 52.68L340.94 53.89L343.88 55.09L346.83 56.3L349.77 57.52L352.71 58.74L355.64 59.97L358.57 61.21L361.49 62.47L364.41 63.74L367.31 65.03L370.2 66.33L373.08 67.67L375.94 69.02L378.79 70.4L381.62 71.81L384.43 73.25L387.23 74.73L390 76.24L392.75 77.78L395.47 79.37L398.17 80.99L400.84 82.66L403.49 84.36L406.11 86.1L408.71 87.88L411.29 89.7L413.84 91.55L416.37 93.43L418.87 95.36L421.35 97.31L423.8 99.3L426.23 101.32L428.64 103.37L431.02 105.45L433.38 107.56L435.72 109.7L438.03 111.87L440.33 114.06L442.6 116.27L444.86 118.51L447.1 120.77L449.33 123.04L451.54 125.33L453.75 127.62L455.95 129.93L458.14 132.25L460.33 134.57L462.51 136.9L464.7 139.23L466.88 141.55L469.07 143.88L471.26 146.19L473.46 148.5L475.67 150.8L477.89 153.09L480.11 155.36L482.36 157.62L484.61 159.86L486.89 162.07L489.18 164.26L491.5 166.41L493.85 168.53L496.22 170.6L498.63 172.62L501.06 174.6L503.54 176.51L506.05 178.37L508.6 180.15L511.2 181.87L513.85 183.51L516.54 185.07L519.28 186.54L522.08 187.93L524.94 189.22L527.85 190.41L530.83 191.5L533.87 192.47L536.97 193.33L540.15 194.08L543.4 194.7" stroke="#83001a" stroke-dasharray="10.8 11.4" stroke-dashoffset="-2"/>
</g>
<rect x="311.7" y="13.2" width="232.5" height="181.8" fill="none" stroke="#8a8a8a" stroke-width="0.9"/>
<path d="M358.2 195v-2.3M358.2 13.2v2.3M404.7 195v-2.3M404.7 13.2v2.3M451.2 195v-2.3M451.2 13.2v2.3M497.7 195v-2.3M497.7 13.2v2.3M311.7 174.8h2.3M544.2 174.8h-2.3M311.7 154.6h2.3M544.2 154.6h-2.3M311.7 134.4h2.3M544.2 134.4h-2.3M311.7 114.2h2.3M544.2 114.2h-2.3M311.7 94h2.3M544.2 94h-2.3M311.7 73.8h2.3M544.2 73.8h-2.3M311.7 53.6h2.3M544.2 53.6h-2.3M311.7 33.4h2.3M544.2 33.4h-2.3" stroke="#8a8a8a" stroke-width="0.8" fill="none"/>
<g class="tk" font-size="7.8">
<text transform="translate(309.63 205.2) rotate(0.03)" textLength="4.14" lengthAdjust="spacingAndGlyphs">0</text><text transform="translate(353.02 205.2) rotate(0.03)" textLength="10.35" lengthAdjust="spacingAndGlyphs">0.2</text><text transform="translate(399.52 205.2) rotate(0.03)" textLength="10.35" lengthAdjust="spacingAndGlyphs">0.4</text><text transform="translate(446.02 205.2) rotate(0.03)" textLength="10.35" lengthAdjust="spacingAndGlyphs">0.6</text><text transform="translate(492.52 205.2) rotate(0.03)" textLength="10.35" lengthAdjust="spacingAndGlyphs">0.8</text><text transform="translate(542.13 205.2) rotate(0.03)" textLength="4.14" lengthAdjust="spacingAndGlyphs">1</text>
<text transform="translate(304.26 197.8) rotate(0.03)" textLength="4.14" lengthAdjust="spacingAndGlyphs">0</text><text transform="translate(298.05 177.6) rotate(0.03)" textLength="10.35" lengthAdjust="spacingAndGlyphs">0.1</text><text transform="translate(298.05 157.4) rotate(0.03)" textLength="10.35" lengthAdjust="spacingAndGlyphs">0.2</text><text transform="translate(298.05 137.2) rotate(0.03)" textLength="10.35" lengthAdjust="spacingAndGlyphs">0.3</text><text transform="translate(298.05 117) rotate(0.03)" textLength="10.35" lengthAdjust="spacingAndGlyphs">0.4</text><text transform="translate(298.05 96.8) rotate(0.03)" textLength="10.35" lengthAdjust="spacingAndGlyphs">0.5</text><text transform="translate(298.05 76.6) rotate(0.03)" textLength="10.35" lengthAdjust="spacingAndGlyphs">0.6</text><text transform="translate(298.05 56.4) rotate(0.03)" textLength="10.35" lengthAdjust="spacingAndGlyphs">0.7</text><text transform="translate(298.05 36.2) rotate(0.03)" textLength="10.35" lengthAdjust="spacingAndGlyphs">0.8</text><text transform="translate(298.05 16) rotate(0.03)" textLength="10.35" lengthAdjust="spacingAndGlyphs">0.9</text>
</g>
<text transform="translate(391.8 10.6) rotate(0.03)" font-size="7.6" textLength="72.3" lengthAdjust="spacingAndGlyphs">Success plots of TRE</text>
<text transform="translate(398 215.1) rotate(0.03)" class="al" font-size="7.6" textLength="59.9" lengthAdjust="spacingAndGlyphs">Overlap threshold</text>
<text transform="translate(294.1 126.25) rotate(-90.03)" class="al" font-size="7.6" textLength="44.3" lengthAdjust="spacingAndGlyphs">Success rate</text>
<rect x="463.3" y="19.9" width="73.7" height="102.2" fill="#fff" stroke="#8a8a8a" stroke-width="0.8"/>
<g font-size="7.05">
<path d="M467.7 26.4H488.6" stroke="#ff0000" stroke-width="2.8" fill="none"/><text transform="translate(490.8 28.9) rotate(0.03)" textLength="15.8" lengthAdjust="spacingAndGlyphs">CFSA</text><text transform="translate(509.1 28.9) rotate(0.03)" textLength="23.1" lengthAdjust="spacingAndGlyphs">[0.624]</text>
<path d="M467.9 36.35H488.6" stroke="#0000ff" stroke-width="2.8" stroke-dasharray="2.7 2.75" fill="none"/><text transform="translate(490.8 38.85) rotate(0.03)" textLength="17.2" lengthAdjust="spacingAndGlyphs">SAMF</text><text transform="translate(510.5 38.85) rotate(0.03)" textLength="23.1" lengthAdjust="spacingAndGlyphs">[0.619]</text>
<path d="M467.7 46.3h11.4" stroke="#00ff00" stroke-width="2.8" fill="none"/><text transform="translate(490.8 48.8) rotate(0.03)" textLength="11.3" lengthAdjust="spacingAndGlyphs">KCF</text><text transform="translate(504.6 48.8) rotate(0.03)" textLength="23.1" lengthAdjust="spacingAndGlyphs">[0.579]</text>
<path d="M467.7 56.25H488.6" stroke="#000000" stroke-width="2.8" fill="none"/><text transform="translate(490.8 58.75) rotate(0.03)" textLength="16.6" lengthAdjust="spacingAndGlyphs">DSST</text><text transform="translate(509.9 58.75) rotate(0.03)" textLength="23.1" lengthAdjust="spacingAndGlyphs">[0.574]</text>
<path d="M467.7 66.2H488.6" stroke="#10a0ea" stroke-width="2.8" fill="none"/><text transform="translate(490.8 68.7) rotate(0.03)" textLength="19.5" lengthAdjust="spacingAndGlyphs">Struck</text><text transform="translate(512.8 68.7) rotate(0.03)" textLength="23.1" lengthAdjust="spacingAndGlyphs">[0.514]</text>
<path d="M467.7 76.15H488.6" stroke="#7c7c7c" stroke-width="2.8" fill="none"/><text transform="translate(490.8 78.65) rotate(0.03)" textLength="14.2" lengthAdjust="spacingAndGlyphs">SCM</text><text transform="translate(507.5 78.65) rotate(0.03)" textLength="23.1" lengthAdjust="spacingAndGlyphs">[0.514]</text>
<path d="M467.7 86.1h11.4" stroke="#ff00ff" stroke-width="2.8" fill="none"/><text transform="translate(490.8 88.6) rotate(0.03)" textLength="15.2" lengthAdjust="spacingAndGlyphs">ASLA</text><text transform="translate(508.5 88.6) rotate(0.03)" textLength="23.1" lengthAdjust="spacingAndGlyphs">[0.485]</text>
<path d="M467.9 96.05H488.6" stroke="#00ffff" stroke-width="2.8" stroke-dasharray="2.7 2.75" fill="none"/><text transform="translate(490.8 98.55) rotate(0.03)" textLength="13" lengthAdjust="spacingAndGlyphs">CSK</text><text transform="translate(506.3 98.55) rotate(0.03)" textLength="23.1" lengthAdjust="spacingAndGlyphs">[0.454]</text>
<path d="M467.9 106H488.6" stroke="#f4771d" stroke-width="2.8" stroke-dasharray="2.7 2.75" fill="none"/><text transform="translate(490.8 108.5) rotate(0.03)" textLength="10.7" lengthAdjust="spacingAndGlyphs">TLD</text><text transform="translate(504 108.5) rotate(0.03)" textLength="23.1" lengthAdjust="spacingAndGlyphs">[0.448]</text>
<path d="M467.7 115.95h11.4" stroke="#83001a" stroke-width="2.8" fill="none"/><text transform="translate(490.8 118.45) rotate(0.03)" textLength="10.2" lengthAdjust="spacingAndGlyphs">MIL</text><text transform="translate(503.5 118.45) rotate(0.03)" textLength="23.1" lengthAdjust="spacingAndGlyphs">[0.406]</text>
</g>
</g>
<g id="p3">
<clipPath id="cp3"><rect x="28.2" y="247.9" width="233.5" height="184.4"/></clipPath>
<g clip-path="url(#cp3)" fill="none" stroke-width="2.8" stroke-linejoin="round">
<path d="M28 430.5L29.59 427.16L31.12 423.8L32.6 420.42L34.03 417.03L35.43 413.62L36.78 410.19L38.1 406.75L39.4 403.3L40.67 399.84L41.91 396.38L43.14 392.9L44.36 389.43L45.57 385.94L46.77 382.46L47.98 378.97L49.18 375.49L50.39 372L51.6 368.51L52.83 365.03L54.07 361.54L55.33 358.06L56.6 354.59L57.9 351.12L59.23 347.65L60.59 344.2L61.99 340.76L63.44 337.34L64.94 333.94L66.5 330.58L68.12 327.26L69.81 323.98L71.59 320.74L73.45 317.56L75.4 314.44L77.45 311.38L79.6 308.39L81.84 305.48L84.18 302.65L86.61 299.9L89.14 297.23L91.77 294.66L94.48 292.19L97.29 289.83L100.19 287.57L103.18 285.42L106.25 283.38L109.39 281.44L112.6 279.6L115.86 277.86L119.18 276.22L122.54 274.67L125.94 273.22L129.36 271.85L132.82 270.56L136.29 269.36L139.79 268.23L143.31 267.19L146.85 266.21L150.42 265.3L154 264.46L157.59 263.68L161.21 262.96L164.84 262.29L168.48 261.68L172.14 261.12L175.8 260.6L179.48 260.12L183.17 259.69L186.86 259.29L190.56 258.93L194.27 258.59L197.98 258.28L201.69 258L205.41 257.73L209.13 257.49L212.84 257.25L216.56 257.03L220.27 256.81L223.98 256.6L227.68 256.39L231.38 256.18L235.07 255.96L238.75 255.73L242.43 255.49L246.09 255.24L249.74 254.96L253.37 254.67L256.99 254.35L260.6 254" stroke="#ff0000"/>
<path d="M28 430.5L29.66 427.25L31.23 423.95L32.72 420.61L34.13 417.22L35.47 413.79L36.75 410.33L37.96 406.83L39.12 403.31L40.24 399.76L41.32 396.18L42.37 392.59L43.38 388.99L44.38 385.37L45.36 381.74L46.34 378.1L47.31 374.47L48.29 370.84L49.28 367.21L50.28 363.59L51.31 359.98L52.37 356.39L53.46 352.81L54.6 349.26L55.79 345.73L57.03 342.23L58.33 338.77L59.7 335.34L61.14 331.95L62.67 328.6L64.28 325.29L65.98 322.04L67.78 318.84L69.69 315.69L71.71 312.61L73.83 309.6L76.05 306.66L78.39 303.81L80.82 301.05L83.36 298.39L86 295.83L88.74 293.39L91.59 291.06L94.53 288.86L97.55 286.78L100.66 284.81L103.85 282.96L107.11 281.23L110.43 279.62L113.81 278.12L117.25 276.74L120.73 275.46L124.25 274.3L127.81 273.23L131.4 272.25L135.03 271.35L138.68 270.54L142.35 269.79L146.03 269.11L149.73 268.48L153.44 267.9L157.16 267.37L160.87 266.87L164.58 266.4L168.29 265.96L171.99 265.54L175.7 265.15L179.4 264.78L183.09 264.42L186.79 264.09L190.48 263.77L194.17 263.46L197.86 263.16L201.55 262.88L205.24 262.6L208.93 262.33L212.62 262.06L216.3 261.79L219.99 261.52L223.68 261.25L227.36 260.98L231.05 260.7L234.74 260.41L238.43 260.11L242.12 259.8L245.81 259.48L249.51 259.14L253.2 258.78L256.9 258.4L260.6 258" stroke="#0000ff" stroke-dasharray="2.6 3.0"/>
<path d="M28 430.5L29.55 427.39L31.04 424.24L32.48 421.05L33.87 417.83L35.22 414.58L36.54 411.3L37.82 407.99L39.08 404.67L40.31 401.32L41.52 397.96L42.72 394.59L43.92 391.22L45.11 387.83L46.29 384.44L47.49 381.06L48.69 377.68L49.91 374.3L51.15 370.94L52.41 367.58L53.7 364.25L55.02 360.93L56.38 357.64L57.79 354.37L59.24 351.14L60.74 347.93L62.3 344.76L63.91 341.63L65.6 338.54L67.35 335.49L69.18 332.49L71.09 329.54L73.09 326.65L75.17 323.82L77.34 321.04L79.61 318.34L81.96 315.72L84.39 313.17L86.92 310.72L89.53 308.36L92.23 306.11L95.01 303.97L97.87 301.94L100.82 300.04L103.85 298.26L106.95 296.6L110.12 295.05L113.34 293.62L116.62 292.29L119.94 291.06L123.3 289.92L126.7 288.88L130.12 287.93L133.57 287.06L137.04 286.27L140.53 285.54L144.04 284.89L147.56 284.29L151.09 283.74L154.64 283.24L158.19 282.78L161.75 282.36L165.31 281.97L168.87 281.6L172.43 281.24L175.98 280.9L179.53 280.57L183.07 280.24L186.61 279.91L190.13 279.58L193.66 279.26L197.17 278.93L200.69 278.62L204.2 278.3L207.7 277.99L211.21 277.69L214.71 277.39L218.22 277.1L221.73 276.82L225.23 276.54L228.75 276.27L232.26 276.01L235.78 275.76L239.3 275.52L242.83 275.29L246.37 275.07L249.91 274.86L253.47 274.66L257.03 274.47L260.6 274.3" stroke="#000000"/>
<path d="M28 430.5L29.55 427.39L31.04 424.24L32.48 421.05L33.87 417.83L35.22 414.57L36.54 411.29L37.82 407.99L39.08 404.66L40.31 401.32L41.53 397.96L42.73 394.59L43.92 391.21L45.11 387.82L46.3 384.43L47.49 381.04L48.7 377.66L49.92 374.29L51.15 370.92L52.42 367.57L53.71 364.23L55.03 360.91L56.39 357.62L57.79 354.35L59.24 351.11L60.75 347.91L62.31 344.73L63.93 341.6L65.61 338.51L67.37 335.46L69.2 332.46L71.11 329.52L73.11 326.62L75.19 323.79L77.37 321.02L79.63 318.31L81.98 315.69L84.42 313.15L86.95 310.69L89.56 308.34L92.26 306.09L95.04 303.95L97.91 301.92L100.86 300.02L103.89 298.24L106.99 296.58L110.16 295.04L113.38 293.6L116.66 292.27L119.98 291.04L123.35 289.91L126.75 288.87L130.17 287.92L133.62 287.06L137.09 286.27L140.58 285.54L144.09 284.89L147.61 284.29L151.15 283.74L154.69 283.24L158.25 282.78L161.8 282.36L165.37 281.96L168.93 281.59L172.49 281.23L176.04 280.87L179.59 280.53L183.13 280.18L186.67 279.83L190.19 279.48L193.71 279.14L197.23 278.79L200.74 278.44L204.25 278.1L207.75 277.76L211.26 277.42L214.76 277.08L218.26 276.75L221.77 276.42L225.27 276.1L228.78 275.78L232.29 275.46L235.81 275.16L239.33 274.86L242.85 274.56L246.38 274.27L249.92 274L253.47 273.72L257.03 273.46L260.6 273.21" stroke="#00ff00" stroke-dasharray="10.8 11.4" stroke-dashoffset="-2.7"/>
<path d="M28 430.5L30.16 427.83L32.17 425.08L34.07 422.26L35.84 419.38L37.52 416.44L39.1 413.44L40.6 410.39L42.03 407.3L43.4 404.16L44.73 400.99L46.02 397.78L47.28 394.55L48.53 391.3L49.76 388.04L50.99 384.76L52.22 381.48L53.46 378.19L54.71 374.92L55.98 371.66L57.28 368.41L58.62 365.19L59.99 361.99L61.41 358.83L62.89 355.71L64.42 352.63L66.02 349.61L67.69 346.63L69.44 343.73L71.28 340.88L73.21 338.11L75.24 335.42L77.37 332.82L79.6 330.29L81.93 327.85L84.35 325.49L86.86 323.21L89.46 321L92.13 318.88L94.87 316.83L97.68 314.87L100.55 312.97L103.48 311.15L106.47 309.41L109.5 307.74L112.58 306.13L115.69 304.6L118.85 303.14L122.02 301.75L125.23 300.43L128.45 299.17L131.69 297.98L134.95 296.85L138.22 295.78L141.51 294.77L144.81 293.81L148.13 292.91L151.46 292.06L154.8 291.26L158.15 290.51L161.51 289.8L164.89 289.13L168.27 288.5L171.66 287.91L175.06 287.36L178.47 286.84L181.88 286.35L185.3 285.89L188.72 285.45L192.15 285.04L195.59 284.65L199.02 284.28L202.46 283.92L205.9 283.58L209.34 283.26L212.78 282.94L216.22 282.63L219.66 282.33L223.1 282.03L226.54 281.73L229.97 281.43L233.4 281.13L236.82 280.82L240.24 280.5L243.65 280.17L247.06 279.83L250.46 279.48L253.85 279.11L257.23 278.71L260.6 278.3" stroke="#10a0ea"/>
<path d="M27.5 430.1L29.36 427.25L31.05 424.35L32.6 421.4L34.03 418.41L35.35 415.38L36.59 412.32L37.77 409.23L38.91 406.11L40.03 402.97L41.15 399.82L42.29 396.66L43.44 393.49L44.61 390.32L45.81 387.16L47.04 384.01L48.3 380.87L49.62 377.76L50.98 374.67L52.39 371.61L53.86 368.6L55.4 365.62L57.01 362.69L58.69 359.81L60.46 356.99L62.31 354.24L64.25 351.55L66.29 348.94L68.43 346.4L70.66 343.94L72.98 341.56L75.38 339.25L77.86 337.03L80.42 334.89L83.06 332.82L85.76 330.85L88.52 328.95L91.35 327.14L94.23 325.42L97.16 323.78L100.14 322.23L103.17 320.76L106.23 319.38L109.32 318.07L112.45 316.83L115.59 315.64L118.74 314.5L121.91 313.41L125.09 312.38L128.29 311.42L131.5 310.54L134.73 309.72L137.97 308.96L141.23 308.27L144.49 307.62L147.77 307.02L151.05 306.47L154.35 305.95L157.65 305.46L160.95 305L164.26 304.56L167.58 304.13L170.9 303.71L174.22 303.3L177.54 302.89L180.86 302.47L184.18 302.05L187.5 301.62L190.82 301.19L194.14 300.75L197.46 300.31L200.78 299.87L204.1 299.43L207.42 298.99L210.74 298.55L214.06 298.11L217.38 297.67L220.7 297.24L224.02 296.81L227.34 296.39L230.67 295.97L233.99 295.57L237.31 295.17L240.63 294.78L243.96 294.4L247.29 294.03L250.61 293.68L253.94 293.34L257.27 293.01L260.6 292.7" stroke="#ff00ff" stroke-dasharray="10.8 11.4" stroke-width="1.7"/>
<path d="M28 430.5L29.85 427.66L31.54 424.78L33.08 421.84L34.5 418.86L35.82 415.84L37.06 412.79L38.24 409.7L39.38 406.6L40.5 403.47L41.61 400.33L42.74 397.17L43.89 394.01L45.05 390.86L46.24 387.7L47.47 384.56L48.73 381.44L50.04 378.33L51.39 375.26L52.8 372.21L54.27 369.21L55.81 366.25L57.42 363.33L59.1 360.47L60.87 357.67L62.73 354.94L64.68 352.27L66.73 349.68L68.87 347.17L71.11 344.73L73.44 342.37L75.86 340.1L78.35 337.9L80.92 335.78L83.56 333.75L86.27 331.79L89.04 329.92L91.87 328.13L94.75 326.43L97.68 324.81L100.66 323.28L103.68 321.83L106.74 320.46L109.82 319.16L112.93 317.93L116.06 316.75L119.21 315.62L122.37 314.55L125.54 313.54L128.73 312.6L131.93 311.73L135.15 310.92L138.39 310.18L141.63 309.49L144.89 308.85L148.15 308.26L151.43 307.71L154.71 307.2L158 306.71L161.3 306.25L164.6 305.81L167.9 305.39L171.21 304.97L174.52 304.56L177.83 304.15L181.14 303.73L184.45 303.31L187.76 302.88L191.07 302.45L194.37 302.02L197.68 301.58L200.99 301.14L204.3 300.7L207.61 300.26L210.91 299.82L214.22 299.38L217.53 298.95L220.84 298.52L224.15 298.1L227.46 297.68L230.77 297.26L234.08 296.86L237.39 296.46L240.7 296.08L244.02 295.7L247.33 295.33L250.65 294.98L253.96 294.64L257.28 294.31L260.6 294" stroke="#7c7c7c"/>
<path d="M28 430.5L30.4 428.18L32.64 425.75L34.75 423.23L36.74 420.62L38.62 417.93L40.41 415.18L42.11 412.37L43.74 409.51L45.31 406.61L46.84 403.68L48.34 400.72L49.8 397.74L51.24 394.74L52.67 391.73L54.08 388.72L55.5 385.69L56.93 382.67L58.37 379.66L59.84 376.66L61.33 373.67L62.86 370.7L64.44 367.75L66.07 364.83L67.75 361.94L69.49 359.09L71.3 356.28L73.17 353.52L75.1 350.81L77.1 348.16L79.17 345.56L81.3 343.03L83.51 340.57L85.78 338.19L88.13 335.88L90.56 333.66L93.06 331.53L95.63 329.49L98.28 327.53L100.99 325.66L103.76 323.87L106.59 322.16L109.47 320.52L112.39 318.95L115.35 317.45L118.35 316.02L121.38 314.65L124.44 313.33L127.51 312.07L130.6 310.86L133.71 309.7L136.84 308.59L139.97 307.53L143.13 306.51L146.29 305.53L149.47 304.6L152.66 303.7L155.86 302.85L159.07 302.03L162.3 301.24L165.53 300.48L168.77 299.76L172.02 299.07L175.28 298.4L178.54 297.76L181.81 297.14L185.09 296.55L188.37 295.97L191.66 295.42L194.95 294.88L198.24 294.36L201.53 293.85L204.83 293.35L208.13 292.86L211.43 292.38L214.73 291.91L218.03 291.44L221.33 290.97L224.63 290.51L227.92 290.05L231.21 289.58L234.5 289.11L237.79 288.63L241.06 288.15L244.34 287.66L247.6 287.15L250.87 286.64L254.12 286.11L257.36 285.56L260.6 285" stroke="#f4771d" stroke-dasharray="2.6 3.0"/>
<path d="M28 430.5L30.17 428.1L32.23 425.63L34.2 423.09L36.08 420.49L37.88 417.83L39.61 415.11L41.27 412.36L42.89 409.57L44.46 406.74L45.99 403.89L47.49 401.02L48.98 398.14L50.46 395.24L51.94 392.35L53.42 389.46L54.93 386.59L56.45 383.73L58.02 380.89L59.62 378.09L61.28 375.32L63 372.59L64.78 369.91L66.65 367.28L68.59 364.72L70.62 362.21L72.72 359.75L74.88 357.36L77.12 355.03L79.42 352.76L81.78 350.54L84.2 348.39L86.67 346.3L89.19 344.26L91.76 342.29L94.38 340.39L97.03 338.53L99.72 336.74L102.43 334.99L105.18 333.29L107.95 331.63L110.74 330.01L113.55 328.42L116.37 326.86L119.2 325.32L122.04 323.83L124.91 322.4L127.8 321.03L130.74 319.75L133.7 318.56L136.7 317.44L139.73 316.4L142.79 315.43L145.88 314.54L148.98 313.7L152.11 312.93L155.26 312.22L158.43 311.57L161.61 310.96L164.81 310.41L168.01 309.88L171.22 309.38L174.44 308.89L177.65 308.4L180.85 307.89L184.05 307.36L187.25 306.83L190.44 306.28L193.62 305.72L196.81 305.15L199.99 304.57L203.16 303.99L206.34 303.41L209.51 302.83L212.69 302.24L215.86 301.67L219.04 301.1L222.21 300.53L225.39 299.98L228.57 299.44L231.75 298.91L234.93 298.39L238.12 297.9L241.32 297.42L244.51 296.97L247.72 296.54L250.93 296.14L254.14 295.76L257.37 295.41L260.6 295.1" stroke="#00ffff" stroke-dasharray="2.6 3.0"/>
<path d="M28 430.5L30.61 428.83L33.04 426.96L35.32 424.93L37.48 422.76L39.53 420.47L41.5 418.08L43.41 415.64L45.28 413.15L47.14 410.63L48.98 408.09L50.81 405.54L52.63 402.98L54.46 400.41L56.28 397.85L58.12 395.28L59.96 392.73L61.83 390.19L63.72 387.68L65.63 385.19L67.58 382.73L69.56 380.31L71.59 377.92L73.66 375.59L75.78 373.31L77.96 371.08L80.19 368.91L82.48 366.8L84.82 364.73L87.2 362.72L89.62 360.75L92.09 358.82L94.59 356.94L97.12 355.08L99.68 353.26L102.26 351.47L104.86 349.71L107.48 347.97L110.12 346.25L112.76 344.54L115.42 342.85L118.07 341.17L120.74 339.52L123.42 337.88L126.11 336.28L128.81 334.7L131.53 333.17L134.27 331.67L137.03 330.22L139.81 328.82L142.61 327.47L145.44 326.18L148.3 324.95L151.19 323.79L154.1 322.69L157.05 321.66L160.01 320.67L163 319.73L166 318.83L169.02 317.96L172.04 317.11L175.07 316.27L178.1 315.44L181.13 314.62L184.16 313.8L187.19 312.99L190.22 312.19L193.25 311.39L196.28 310.61L199.32 309.83L202.36 309.06L205.39 308.3L208.44 307.56L211.48 306.82L214.52 306.1L217.57 305.39L220.62 304.69L223.67 304.01L226.73 303.34L229.79 302.69L232.85 302.06L235.92 301.44L238.99 300.84L242.06 300.26L245.14 299.7L248.22 299.16L251.31 298.64L254.4 298.14L257.5 297.66L260.6 297.2" stroke="#83001a" stroke-dasharray="10.8 11.4" stroke-dashoffset="-2.5"/>
</g>
<rect x="28.2" y="249.3" width="233.1" height="181.6" fill="none" stroke="#8a8a8a" stroke-width="0.9"/>
<path d="M74.82 430.9v-2.3M74.82 249.3v2.3M121.44 430.9v-2.3M121.44 249.3v2.3M168.06 430.9v-2.3M168.06 249.3v2.3M214.68 430.9v-2.3M214.68 249.3v2.3M28.2 410.72h2.3M261.3 410.72h-2.3M28.2 390.54h2.3M261.3 390.54h-2.3M28.2 370.37h2.3M261.3 370.37h-2.3M28.2 350.19h2.3M261.3 350.19h-2.3M28.2 330.01h2.3M261.3 330.01h-2.3M28.2 309.83h2.3M261.3 309.83h-2.3M28.2 289.66h2.3M261.3 289.66h-2.3M28.2 269.48h2.3M261.3 269.48h-2.3" stroke="#8a8a8a" stroke-width="0.8" fill="none"/>
<g class="tk" font-size="7.8">
<text transform="translate(26.13 441.5) rotate(0.03)" textLength="4.14" lengthAdjust="spacingAndGlyphs">0</text><text transform="translate(70.68 441.5) rotate(0.03)" textLength="8.28" lengthAdjust="spacingAndGlyphs">10</text><text transform="translate(117.3 441.5) rotate(0.03)" textLength="8.28" lengthAdjust="spacingAndGlyphs">20</text><text transform="translate(163.92 441.5) rotate(0.03)" textLength="8.28" lengthAdjust="spacingAndGlyphs">30</text><text transform="translate(210.54 441.5) rotate(0.03)" textLength="8.28" lengthAdjust="spacingAndGlyphs">40</text><text transform="translate(257.16 441.5) rotate(0.03)" textLength="8.28" lengthAdjust="spacingAndGlyphs">50</text>
<text transform="translate(20.76 433.7) rotate(0.03)" textLength="4.14" lengthAdjust="spacingAndGlyphs">0</text><text transform="translate(14.55 413.52) rotate(0.03)" textLength="10.35" lengthAdjust="spacingAndGlyphs">0.1</text><text transform="translate(14.55 393.34) rotate(0.03)" textLength="10.35" lengthAdjust="spacingAndGlyphs">0.2</text><text transform="translate(14.55 373.17) rotate(0.03)" textLength="10.35" lengthAdjust="spacingAndGlyphs">0.3</text><text transform="translate(14.55 352.99) rotate(0.03)" textLength="10.35" lengthAdjust="spacingAndGlyphs">0.4</text><text transform="translate(14.55 332.81) rotate(0.03)" textLength="10.35" lengthAdjust="spacingAndGlyphs">0.5</text><text transform="translate(14.55 312.63) rotate(0.03)" textLength="10.35" lengthAdjust="spacingAndGlyphs">0.6</text><text transform="translate(14.55 292.46) rotate(0.03)" textLength="10.35" lengthAdjust="spacingAndGlyphs">0.7</text><text transform="translate(14.55 272.28) rotate(0.03)" textLength="10.35" lengthAdjust="spacingAndGlyphs">0.8</text><text transform="translate(14.55 252.1) rotate(0.03)" textLength="10.35" lengthAdjust="spacingAndGlyphs">0.9</text>
</g>
<text transform="translate(107.05 246) rotate(0.03)" font-size="7.6" textLength="75.4" lengthAdjust="spacingAndGlyphs">Precision plots of SRE</text>
<text transform="translate(103.95 451.8) rotate(0.03)" class="al" font-size="7.6" textLength="81.6" lengthAdjust="spacingAndGlyphs">Location error threshold</text>
<text transform="translate(10.6 355.9) rotate(-90.03)" class="al" font-size="7.6" textLength="31.6" lengthAdjust="spacingAndGlyphs">Precision</text>
<rect x="179.5" y="256.2" width="74" height="102" fill="#fff" stroke="#8a8a8a" stroke-width="0.8"/>
<g font-size="7.05">
<path d="M183.9 262.7H204.8" stroke="#ff0000" stroke-width="2.8" fill="none"/><text transform="translate(207 265.2) rotate(0.03)" textLength="15.8" lengthAdjust="spacingAndGlyphs">CFSA</text><text transform="translate(225.3 265.2) rotate(0.03)" textLength="23.1" lengthAdjust="spacingAndGlyphs">[0.773]</text>
<path d="M184.1 272.65H204.8" stroke="#0000ff" stroke-width="2.8" stroke-dasharray="2.7 2.75" fill="none"/><text transform="translate(207 275.15) rotate(0.03)" textLength="17.2" lengthAdjust="spacingAndGlyphs">SAMF</text><text transform="translate(226.7 275.15) rotate(0.03)" textLength="23.1" lengthAdjust="spacingAndGlyphs">[0.769]</text>
<path d="M183.9 282.6H204.8" stroke="#000000" stroke-width="2.8" fill="none"/><text transform="translate(207 285.1) rotate(0.03)" textLength="16.6" lengthAdjust="spacingAndGlyphs">DSST</text><text transform="translate(226.1 285.1) rotate(0.03)" textLength="23.1" lengthAdjust="spacingAndGlyphs">[0.694]</text>
<path d="M183.9 292.55h11.4" stroke="#00ff00" stroke-width="2.8" fill="none"/><text transform="translate(207 295.05) rotate(0.03)" textLength="11.3" lengthAdjust="spacingAndGlyphs">KCF</text><text transform="translate(220.8 295.05) rotate(0.03)" textLength="23.1" lengthAdjust="spacingAndGlyphs">[0.687]</text>
<path d="M183.9 302.5H204.8" stroke="#10a0ea" stroke-width="2.8" fill="none"/><text transform="translate(207 305) rotate(0.03)" textLength="19.5" lengthAdjust="spacingAndGlyphs">Struck</text><text transform="translate(229 305) rotate(0.03)" textLength="23.1" lengthAdjust="spacingAndGlyphs">[0.635]</text>
<path d="M183.9 312.45h11.4" stroke="#ff00ff" stroke-width="1.7" fill="none"/><text transform="translate(207 314.95) rotate(0.03)" textLength="15.2" lengthAdjust="spacingAndGlyphs">ASLA</text><text transform="translate(224.7 314.95) rotate(0.03)" textLength="23.1" lengthAdjust="spacingAndGlyphs">[0.577]</text>
<path d="M183.9 322.4H204.8" stroke="#7c7c7c" stroke-width="2.8" fill="none"/><text transform="translate(207 324.9) rotate(0.03)" textLength="14.2" lengthAdjust="spacingAndGlyphs">SCM</text><text transform="translate(223.7 324.9) rotate(0.03)" textLength="23.1" lengthAdjust="spacingAndGlyphs">[0.575]</text>
<path d="M184.1 332.35H204.8" stroke="#f4771d" stroke-width="2.8" stroke-dasharray="2.7 2.75" fill="none"/><text transform="translate(207 334.85) rotate(0.03)" textLength="10.7" lengthAdjust="spacingAndGlyphs">TLD</text><text transform="translate(220.2 334.85) rotate(0.03)" textLength="23.1" lengthAdjust="spacingAndGlyphs">[0.573]</text>
<path d="M184.1 342.3H204.8" stroke="#00ffff" stroke-width="2.8" stroke-dasharray="2.7 2.75" fill="none"/><text transform="translate(207 344.8) rotate(0.03)" textLength="13" lengthAdjust="spacingAndGlyphs">CSK</text><text transform="translate(222.5 344.8) rotate(0.03)" textLength="23.1" lengthAdjust="spacingAndGlyphs">[0.525]</text>
<path d="M183.9 352.25h11.4" stroke="#83001a" stroke-width="2.8" fill="none"/><text transform="translate(207 354.75) rotate(0.03)" textLength="10.2" lengthAdjust="spacingAndGlyphs">MIL</text><text transform="translate(219.7 354.75) rotate(0.03)" textLength="23.1" lengthAdjust="spacingAndGlyphs">[0.454]</text>
</g>
</g>
<g id="p4">
<clipPath id="cp4"><rect x="311.6" y="247.9" width="233" height="184.4"/></clipPath>
<g clip-path="url(#cp4)" fill="none" stroke-width="2.8" stroke-linejoin="round">
<path d="M311.8 255.9L315.13 256.84L318.49 257.71L321.89 258.51L325.32 259.25L328.77 259.93L332.25 260.57L335.75 261.18L339.26 261.75L342.79 262.29L346.33 262.82L349.88 263.33L353.43 263.84L356.98 264.36L360.53 264.88L364.08 265.42L367.61 265.99L371.14 266.59L374.65 267.22L378.14 267.9L381.62 268.64L385.06 269.43L388.49 270.29L391.88 271.22L395.23 272.24L398.55 273.34L401.83 274.53L405.07 275.83L408.26 277.23L411.4 278.76L414.48 280.4L417.52 282.16L420.49 284.04L423.4 286.03L426.24 288.13L429.02 290.33L431.72 292.62L434.34 295.01L436.89 297.49L439.36 300.06L441.74 302.71L444.03 305.43L446.22 308.22L448.33 311.08L450.33 314.01L452.25 316.98L454.08 320.01L455.86 323.07L457.58 326.16L459.27 329.27L460.92 332.39L462.55 335.53L464.15 338.68L465.73 341.84L467.29 345.01L468.84 348.19L470.37 351.37L471.9 354.56L473.42 357.75L474.94 360.95L476.47 364.14L478 367.33L479.54 370.51L481.09 373.69L482.66 376.86L484.25 380.03L485.86 383.18L487.5 386.32L489.18 389.45L490.88 392.56L492.62 395.65L494.4 398.73L496.23 401.79L498.11 404.82L500.03 407.83L502.03 410.78L504.11 413.64L506.3 416.39L508.61 418.98L511.06 421.38L513.67 423.57L516.45 425.51L519.43 427.17L522.62 428.5L526.01 429.52L529.56 430.24L533.21 430.7L536.9 430.92L540.58 430.94L544.2 430.8" stroke="#0000ff" stroke-dasharray="2.6 3.0"/>
<path d="M311.8 250.9L315.09 252.06L318.41 253.15L321.76 254.15L325.14 255.1L328.54 255.99L331.96 256.84L335.39 257.65L338.83 258.44L342.28 259.22L345.72 260L349.17 260.78L352.6 261.58L356.03 262.4L359.44 263.27L362.83 264.18L366.2 265.14L369.54 266.18L372.84 267.29L376.11 268.49L379.34 269.78L382.53 271.18L385.69 272.65L388.82 274.19L391.95 275.76L395.08 277.35L398.23 278.92L401.41 280.46L404.61 281.96L407.81 283.46L410.96 285.04L414.01 286.75L416.96 288.61L419.8 290.6L422.55 292.72L425.21 294.96L427.78 297.3L430.27 299.74L432.68 302.27L435.02 304.87L437.3 307.54L439.51 310.26L441.67 313.03L443.77 315.84L445.82 318.68L447.83 321.54L449.79 324.43L451.7 327.36L453.56 330.31L455.36 333.29L457.12 336.31L458.83 339.36L460.51 342.42L462.16 345.51L463.79 348.61L465.42 351.72L467.06 354.82L468.72 357.92L470.4 361.01L472.13 364.08L473.9 367.13L475.68 370.17L477.45 373.2L479.18 376.25L480.87 379.31L482.53 382.38L484.19 385.45L485.84 388.51L487.52 391.57L489.22 394.62L490.98 397.66L492.8 400.67L494.7 403.67L496.68 406.63L498.76 409.52L500.95 412.33L503.25 415.02L505.67 417.57L508.22 419.96L510.91 422.15L513.74 424.12L516.72 425.84L519.87 427.29L523.17 428.44L526.6 429.33L530.11 429.98L533.67 430.42L537.24 430.68L540.76 430.8L544.2 430.8" stroke="#ff0000"/>
<path d="M311.8 272.6L315.03 273.54L318.28 274.41L321.56 275.22L324.85 275.99L328.17 276.71L331.5 277.38L334.85 278.02L338.21 278.62L341.59 279.21L344.97 279.77L348.36 280.31L351.75 280.84L355.15 281.37L358.55 281.9L361.95 282.44L365.34 282.98L368.73 283.54L372.12 284.13L375.49 284.73L378.86 285.37L382.21 286.05L385.55 286.77L388.87 287.54L392.17 288.36L395.45 289.23L398.71 290.17L401.95 291.18L405.16 292.26L408.34 293.42L411.49 294.67L414.6 296L417.69 297.43L420.72 298.94L423.72 300.54L426.66 302.23L429.55 304.01L432.38 305.88L435.14 307.84L437.84 309.88L440.47 312.02L443.01 314.24L445.48 316.55L447.86 318.96L450.15 321.44L452.34 324.02L454.43 326.68L456.42 329.44L458.3 332.28L460.07 335.2L461.74 338.2L463.34 341.26L464.9 344.35L466.43 347.45L467.96 350.55L469.52 353.62L471.14 356.65L472.83 359.62L474.61 362.51L476.43 365.36L478.25 368.21L480 371.08L481.66 374.02L483.23 377L484.73 380.03L486.18 383.09L487.61 386.18L489.02 389.28L490.45 392.38L491.9 395.48L493.41 398.56L494.99 401.61L496.65 404.63L498.42 407.6L500.3 410.5L502.31 413.29L504.45 415.96L506.72 418.48L509.14 420.81L511.72 422.94L514.45 424.84L517.36 426.48L520.44 427.83L523.69 428.89L527.07 429.68L530.52 430.23L534.01 430.59L537.49 430.78L540.9 430.84L544.2 430.8" stroke="#000000"/>
<path d="M311.8 269.8L315.08 270.58L318.36 271.36L321.65 272.13L324.93 272.89L328.21 273.65L331.49 274.41L334.77 275.17L338.05 275.94L341.33 276.7L344.61 277.48L347.88 278.26L351.15 279.05L354.42 279.85L357.68 280.67L360.94 281.5L364.2 282.35L367.45 283.21L370.7 284.1L373.94 285.01L377.18 285.94L380.41 286.9L383.63 287.89L386.85 288.91L390.06 289.97L393.24 291.07L396.41 292.23L399.54 293.46L402.65 294.75L405.71 296.12L408.73 297.58L411.71 299.14L414.63 300.78L417.51 302.51L420.33 304.32L423.11 306.22L425.83 308.19L428.5 310.24L431.11 312.36L433.67 314.55L436.17 316.8L438.62 319.12L441.01 321.5L443.34 323.94L445.62 326.43L447.83 328.97L449.98 331.56L452.07 334.19L454.1 336.87L456.07 339.58L457.98 342.34L459.85 345.12L461.67 347.94L463.46 350.78L465.21 353.65L466.92 356.54L468.62 359.44L470.29 362.37L471.95 365.3L473.6 368.25L475.24 371.2L476.87 374.15L478.52 377.11L480.17 380.06L481.83 383.01L483.5 385.95L485.21 388.88L486.93 391.79L488.69 394.69L490.48 397.57L492.32 400.42L494.2 403.25L496.13 406.04L498.12 408.79L500.18 411.46L502.33 414.05L504.57 416.52L506.91 418.86L509.37 421.04L511.95 423.05L514.68 424.86L517.55 426.45L520.58 427.8L523.76 428.9L527.07 429.75L530.46 430.38L533.91 430.79L537.37 430.99L540.81 430.99L544.2 430.8" stroke="#00ff00" stroke-dasharray="10.8 11.4" stroke-dashoffset="-0.3"/>
<path d="M311.8 273.8L314.92 274.86L318.05 275.9L321.19 276.91L324.35 277.89L327.52 278.86L330.69 279.81L333.87 280.76L337.05 281.69L340.24 282.62L343.43 283.55L346.62 284.48L349.81 285.42L352.99 286.36L356.17 287.33L359.34 288.3L362.51 289.3L365.66 290.32L368.8 291.37L371.93 292.45L375.04 293.56L378.14 294.71L381.22 295.91L384.27 297.14L387.31 298.43L390.32 299.77L393.31 301.16L396.27 302.61L399.21 304.13L402.11 305.71L404.98 307.35L407.83 309.05L410.66 310.79L413.46 312.57L416.25 314.37L419.02 316.2L421.77 318.05L424.49 319.95L427.14 321.91L429.73 323.96L432.24 326.1L434.67 328.32L437.04 330.62L439.35 332.98L441.59 335.41L443.78 337.89L445.92 340.42L448.01 343L450.06 345.6L452.06 348.24L454.03 350.9L455.96 353.58L457.87 356.28L459.74 359.01L461.6 361.74L463.43 364.5L465.25 367.26L467.05 370.04L468.84 372.82L470.63 375.61L472.41 378.4L474.2 381.2L475.98 383.99L477.77 386.78L479.58 389.57L481.39 392.35L483.22 395.13L485.07 397.89L486.95 400.64L488.85 403.37L490.78 406.09L492.74 408.79L494.75 411.46L496.82 414.06L498.96 416.57L501.18 418.95L503.52 421.19L505.97 423.24L508.57 425.08L511.31 426.68L514.23 428.01L517.33 429.04L520.6 429.77L523.99 430.26L527.47 430.55L530.96 430.69L534.44 430.73L537.83 430.73L541.1 430.74L544.2 430.8" stroke="#10a0ea"/>
<path d="M311.8 287.6L314.82 288.7L317.86 289.76L320.91 290.79L323.97 291.77L327.05 292.72L330.14 293.64L333.25 294.53L336.36 295.39L339.48 296.22L342.61 297.03L345.75 297.82L348.89 298.59L352.04 299.35L355.19 300.09L358.34 300.81L361.49 301.53L364.65 302.23L367.8 302.94L370.95 303.63L374.1 304.33L377.25 305.03L380.39 305.72L383.52 306.43L386.65 307.16L389.76 307.92L392.86 308.71L395.95 309.57L399.01 310.48L402.06 311.47L405.09 312.54L408.09 313.7L411.07 314.93L414.02 316.24L416.94 317.62L419.83 319.08L422.69 320.6L425.51 322.2L428.29 323.87L431.04 325.6L433.74 327.4L436.4 329.26L439.01 331.18L441.58 333.16L444.1 335.2L446.56 337.3L448.98 339.45L451.33 341.65L453.63 343.9L455.87 346.2L458.05 348.55L460.17 350.95L462.24 353.39L464.25 355.86L466.22 358.38L468.15 360.92L470.04 363.5L471.89 366.11L473.72 368.74L475.52 371.4L477.3 374.08L479.06 376.77L480.81 379.48L482.56 382.21L484.29 384.94L486.03 387.68L487.77 390.42L489.53 393.17L491.29 395.91L493.07 398.65L494.87 401.39L496.7 404.11L498.57 406.79L500.49 409.43L502.46 412.01L504.51 414.49L506.63 416.87L508.85 419.13L511.17 421.24L513.61 423.2L516.17 424.97L518.86 426.55L521.7 427.91L524.67 429.05L527.76 429.96L530.93 430.63L534.19 431.05L537.5 431.23L540.84 431.14L544.2 430.8" stroke="#ff00ff" stroke-dasharray="10.8 11.4" stroke-width="1.7"/>
<path d="M311.8 288.9L314.81 290.01L317.84 291.07L320.89 292.1L323.95 293.08L327.03 294.03L330.12 294.95L333.22 295.84L336.33 296.7L339.46 297.53L342.59 298.34L345.72 299.12L348.86 299.89L352.01 300.64L355.16 301.37L358.31 302.1L361.46 302.81L364.62 303.51L367.77 304.21L370.92 304.91L374.06 305.6L377.2 306.3L380.33 307L383.46 307.71L386.57 308.44L389.68 309.2L392.77 310L395.85 310.85L398.92 311.76L401.97 312.75L405 313.82L408 314.97L410.99 316.2L413.94 317.5L416.87 318.87L419.77 320.33L422.63 321.85L425.46 323.44L428.25 325.11L430.99 326.84L433.69 328.64L436.34 330.51L438.94 332.44L441.49 334.43L443.99 336.49L446.43 338.61L448.8 340.78L451.12 343.01L453.37 345.3L455.55 347.65L457.66 350.05L459.71 352.49L461.69 354.99L463.63 357.53L465.51 360.1L467.35 362.71L469.15 365.36L470.92 368.03L472.66 370.72L474.39 373.44L476.09 376.17L477.78 378.92L479.47 381.67L481.16 384.43L482.85 387.2L484.56 389.96L486.28 392.72L488.02 395.46L489.79 398.2L491.59 400.92L493.43 403.62L495.31 406.28L497.25 408.89L499.26 411.42L501.33 413.88L503.49 416.23L505.73 418.47L508.07 420.57L510.52 422.52L513.08 424.31L515.76 425.91L518.57 427.32L521.52 428.51L524.57 429.49L527.73 430.25L530.95 430.8L534.23 431.13L537.55 431.24L540.88 431.13L544.2 430.8" stroke="#7c7c7c"/>
<path d="M311.8 280.2L314.86 281.17L317.92 282.13L320.99 283.1L324.07 284.06L327.16 285.04L330.24 286.01L333.34 287L336.43 287.99L339.52 289L342.61 290.02L345.7 291.06L348.78 292.11L351.85 293.18L354.92 294.27L357.98 295.38L361.03 296.51L364.07 297.67L367.1 298.86L370.11 300.08L373.11 301.32L376.09 302.6L379.05 303.92L381.99 305.27L384.91 306.65L387.81 308.08L390.69 309.55L393.54 311.06L396.36 312.61L399.16 314.21L401.92 315.86L404.66 317.56L407.36 319.31L410.03 321.12L412.67 322.98L415.27 324.89L417.83 326.86L420.36 328.88L422.85 330.95L425.31 333.06L427.74 335.22L430.13 337.43L432.49 339.67L434.81 341.95L437.1 344.27L439.36 346.62L441.58 349.01L443.78 351.42L445.94 353.86L448.06 356.32L450.16 358.81L452.22 361.32L454.25 363.85L456.25 366.4L458.22 368.96L460.16 371.53L462.07 374.11L463.96 376.71L465.82 379.31L467.67 381.93L469.51 384.55L471.34 387.19L473.16 389.84L475 392.5L476.83 395.18L478.69 397.86L480.57 400.53L482.49 403.17L484.46 405.77L486.51 408.3L488.63 410.76L490.84 413.12L493.16 415.37L495.58 417.49L498.11 419.48L500.73 421.34L503.44 423.05L506.24 424.6L509.13 425.99L512.09 427.21L515.13 428.25L518.24 429.11L521.41 429.77L524.64 430.25L527.9 430.58L531.19 430.77L534.48 430.86L537.76 430.88L541 430.85L544.2 430.8" stroke="#f4771d" stroke-dasharray="2.6 3.0"/>
<path d="M311.8 290.6L314.74 291.73L317.68 292.86L320.61 293.99L323.54 295.13L326.46 296.28L329.39 297.42L332.3 298.58L335.21 299.74L338.12 300.91L341.03 302.08L343.92 303.27L346.82 304.46L349.71 305.66L352.59 306.87L355.47 308.1L358.34 309.33L361.2 310.58L364.06 311.84L366.92 313.11L369.76 314.39L372.61 315.69L375.44 317.01L378.27 318.34L381.09 319.69L383.9 321.05L386.71 322.43L389.5 323.83L392.3 325.25L395.08 326.68L397.85 328.14L400.62 329.62L403.38 331.11L406.13 332.63L408.87 334.17L411.6 335.74L414.32 337.33L417.02 338.95L419.7 340.59L422.37 342.27L425.01 343.97L427.63 345.71L430.23 347.48L432.79 349.28L435.33 351.13L437.84 353L440.32 354.92L442.76 356.88L445.16 358.88L447.53 360.92L449.86 363.01L452.14 365.14L454.37 367.32L456.57 369.55L458.71 371.83L460.8 374.15L462.85 376.53L464.85 378.94L466.82 381.39L468.77 383.86L470.7 386.35L472.62 388.85L474.54 391.35L476.46 393.85L478.39 396.33L480.34 398.79L482.32 401.23L484.33 403.62L486.38 405.98L488.48 408.28L490.63 410.53L492.85 412.71L495.14 414.81L497.5 416.83L499.94 418.77L502.45 420.59L505.04 422.31L507.7 423.9L510.44 425.35L513.24 426.65L516.12 427.8L519.06 428.77L522.08 429.57L525.16 430.17L528.3 430.58L531.48 430.82L534.68 430.94L537.88 430.95L541.06 430.89L544.2 430.8" stroke="#00ffff" stroke-dasharray="2.6 3.0"/>
<path d="M311.8 291.9L314.56 293.31L317.35 294.68L320.14 296.01L322.95 297.33L325.78 298.62L328.61 299.89L331.45 301.15L334.29 302.39L337.14 303.64L339.99 304.88L342.84 306.12L345.68 307.37L348.52 308.64L351.36 309.91L354.18 311.21L357 312.54L359.8 313.89L362.59 315.27L365.37 316.68L368.13 318.11L370.87 319.58L373.6 321.07L376.32 322.59L379.02 324.14L381.7 325.71L384.37 327.31L387.02 328.94L389.65 330.59L392.27 332.26L394.86 333.96L397.44 335.69L400 337.43L402.54 339.2L405.07 341L407.57 342.81L410.06 344.65L412.54 346.51L414.99 348.39L417.44 350.29L419.87 352.2L422.28 354.14L424.68 356.1L427.06 358.07L429.44 360.07L431.8 362.07L434.15 364.1L436.48 366.14L438.81 368.2L441.12 370.28L443.43 372.37L445.72 374.47L448.01 376.59L450.28 378.72L452.55 380.86L454.81 383.02L457.06 385.18L459.3 387.36L461.54 389.55L463.77 391.75L466 393.96L468.23 396.16L470.47 398.35L472.72 400.52L474.98 402.68L477.26 404.8L479.56 406.89L481.89 408.94L484.26 410.93L486.65 412.87L489.09 414.75L491.57 416.57L494.1 418.3L496.67 419.96L499.31 421.52L501.99 423L504.72 424.37L507.51 425.64L510.33 426.8L513.21 427.85L516.13 428.78L519.09 429.58L522.1 430.25L525.15 430.78L528.23 431.17L531.35 431.41L534.51 431.5L537.71 431.43L540.94 431.2L544.2 430.8" stroke="#83001a" stroke-dasharray="10.8 11.4" stroke-dashoffset="-0.8"/>
</g>
<rect x="311.6" y="249.3" width="232.6" height="181.6" fill="none" stroke="#8a8a8a" stroke-width="0.9"/>
<path d="M358.12 430.9v-2.3M358.12 249.3v2.3M404.64 430.9v-2.3M404.64 249.3v2.3M451.16 430.9v-2.3M451.16 249.3v2.3M497.68 430.9v-2.3M497.68 249.3v2.3M311.6 410.72h2.3M544.2 410.72h-2.3M311.6 390.54h2.3M544.2 390.54h-2.3M311.6 370.37h2.3M544.2 370.37h-2.3M311.6 350.19h2.3M544.2 350.19h-2.3M311.6 330.01h2.3M544.2 330.01h-2.3M311.6 309.83h2.3M544.2 309.83h-2.3M311.6 289.66h2.3M544.2 289.66h-2.3M311.6 269.48h2.3M544.2 269.48h-2.3" stroke="#8a8a8a" stroke-width="0.8" fill="none"/>
<g class="tk" font-size="7.8">
<text transform="translate(309.53 441.5) rotate(0.03)" textLength="4.14" lengthAdjust="spacingAndGlyphs">0</text><text transform="translate(352.94 441.5) rotate(0.03)" textLength="10.35" lengthAdjust="spacingAndGlyphs">0.2</text><text transform="translate(399.46 441.5) rotate(0.03)" textLength="10.35" lengthAdjust="spacingAndGlyphs">0.4</text><text transform="translate(445.98 441.5) rotate(0.03)" textLength="10.35" lengthAdjust="spacingAndGlyphs">0.6</text><text transform="translate(492.5 441.5) rotate(0.03)" textLength="10.35" lengthAdjust="spacingAndGlyphs">0.8</text><text transform="translate(542.13 441.5) rotate(0.03)" textLength="4.14" lengthAdjust="spacingAndGlyphs">1</text>
<text transform="translate(304.16 433.7) rotate(0.03)" textLength="4.14" lengthAdjust="spacingAndGlyphs">0</text><text transform="translate(297.95 413.52) rotate(0.03)" textLength="10.35" lengthAdjust="spacingAndGlyphs">0.1</text><text transform="translate(297.95 393.34) rotate(0.03)" textLength="10.35" lengthAdjust="spacingAndGlyphs">0.2</text><text transform="translate(297.95 373.17) rotate(0.03)" textLength="10.35" lengthAdjust="spacingAndGlyphs">0.3</text><text transform="translate(297.95 352.99) rotate(0.03)" textLength="10.35" lengthAdjust="spacingAndGlyphs">0.4</text><text transform="translate(297.95 332.81) rotate(0.03)" textLength="10.35" lengthAdjust="spacingAndGlyphs">0.5</text><text transform="translate(297.95 312.63) rotate(0.03)" textLength="10.35" lengthAdjust="spacingAndGlyphs">0.6</text><text transform="translate(297.95 292.46) rotate(0.03)" textLength="10.35" lengthAdjust="spacingAndGlyphs">0.7</text><text transform="translate(297.95 272.28) rotate(0.03)" textLength="10.35" lengthAdjust="spacingAndGlyphs">0.8</text><text transform="translate(297.95 252.1) rotate(0.03)" textLength="10.35" lengthAdjust="spacingAndGlyphs">0.9</text>
</g>
<text transform="translate(391.35 246) rotate(0.03)" font-size="7.6" textLength="73.1" lengthAdjust="spacingAndGlyphs">Success plots of SRE</text>
<text transform="translate(397.95 451.7) rotate(0.03)" class="al" font-size="7.6" textLength="59.9" lengthAdjust="spacingAndGlyphs">Overlap threshold</text>
<text transform="translate(294 362.25) rotate(-90.03)" class="al" font-size="7.6" textLength="44.3" lengthAdjust="spacingAndGlyphs">Success rate</text>
<rect x="463.3" y="256.2" width="73.8" height="102.1" fill="#fff" stroke="#8a8a8a" stroke-width="0.8"/>
<g font-size="7.05">
<path d="M467.9 262.7H488.6" stroke="#0000ff" stroke-width="2.8" stroke-dasharray="2.7 2.75" fill="none"/><text transform="translate(490.8 265.2) rotate(0.03)" textLength="17.2" lengthAdjust="spacingAndGlyphs">SAMF</text><text transform="translate(510.5 265.2) rotate(0.03)" textLength="23.1" lengthAdjust="spacingAndGlyphs">[0.536]</text>
<path d="M467.7 272.65H488.6" stroke="#ff0000" stroke-width="2.8" fill="none"/><text transform="translate(490.8 275.15) rotate(0.03)" textLength="15.8" lengthAdjust="spacingAndGlyphs">CFSA</text><text transform="translate(509.1 275.15) rotate(0.03)" textLength="23.1" lengthAdjust="spacingAndGlyphs">[0.522]</text>
<path d="M467.7 282.6H488.6" stroke="#000000" stroke-width="2.8" fill="none"/><text transform="translate(490.8 285.1) rotate(0.03)" textLength="16.6" lengthAdjust="spacingAndGlyphs">DSST</text><text transform="translate(509.9 285.1) rotate(0.03)" textLength="23.1" lengthAdjust="spacingAndGlyphs">[0.489]</text>
<path d="M467.7 292.55h11.4" stroke="#00ff00" stroke-width="2.8" fill="none"/><text transform="translate(490.8 295.05) rotate(0.03)" textLength="11.3" lengthAdjust="spacingAndGlyphs">KCF</text><text transform="translate(504.6 295.05) rotate(0.03)" textLength="23.1" lengthAdjust="spacingAndGlyphs">[0.475]</text>
<path d="M467.7 302.5H488.6" stroke="#10a0ea" stroke-width="2.8" fill="none"/><text transform="translate(490.8 305) rotate(0.03)" textLength="19.5" lengthAdjust="spacingAndGlyphs">Struck</text><text transform="translate(512.8 305) rotate(0.03)" textLength="23.1" lengthAdjust="spacingAndGlyphs">[0.439]</text>
<path d="M467.7 312.45h11.4" stroke="#ff00ff" stroke-width="1.7" fill="none"/><text transform="translate(490.8 314.95) rotate(0.03)" textLength="15.2" lengthAdjust="spacingAndGlyphs">ASLA</text><text transform="translate(508.5 314.95) rotate(0.03)" textLength="23.1" lengthAdjust="spacingAndGlyphs">[0.421]</text>
<path d="M467.7 322.4H488.6" stroke="#7c7c7c" stroke-width="2.8" fill="none"/><text transform="translate(490.8 324.9) rotate(0.03)" textLength="14.2" lengthAdjust="spacingAndGlyphs">SCM</text><text transform="translate(507.5 324.9) rotate(0.03)" textLength="23.1" lengthAdjust="spacingAndGlyphs">[0.420]</text>
<path d="M467.9 332.35H488.6" stroke="#f4771d" stroke-width="2.8" stroke-dasharray="2.7 2.75" fill="none"/><text transform="translate(490.8 334.85) rotate(0.03)" textLength="10.7" lengthAdjust="spacingAndGlyphs">TLD</text><text transform="translate(504 334.85) rotate(0.03)" textLength="23.1" lengthAdjust="spacingAndGlyphs">[0.402]</text>
<path d="M467.9 342.3H488.6" stroke="#00ffff" stroke-width="2.8" stroke-dasharray="2.7 2.75" fill="none"/><text transform="translate(490.8 344.8) rotate(0.03)" textLength="13" lengthAdjust="spacingAndGlyphs">CSK</text><text transform="translate(506.3 344.8) rotate(0.03)" textLength="23.1" lengthAdjust="spacingAndGlyphs">[0.367]</text>
<path d="M467.7 352.25h11.4" stroke="#83001a" stroke-width="2.8" fill="none"/><text transform="translate(490.8 354.75) rotate(0.03)" textLength="10.2" lengthAdjust="spacingAndGlyphs">MIL</text><text transform="translate(503.5 354.75) rotate(0.03)" textLength="23.1" lengthAdjust="spacingAndGlyphs">[0.334]</text>
</g>
</g>
<text x="277.9" y="226.6" font-size="13.3" font-weight="bold" style="font-family:'Liberation Serif',serif;fill:#1a1a1a;stroke:none">(a)</text>
<text x="277.9" y="470.4" font-size="13.5" style="font-family:'Liberation Serif',serif;fill:#1a1a1a;stroke:none">(b)</text>
</svg>
</body></html>
